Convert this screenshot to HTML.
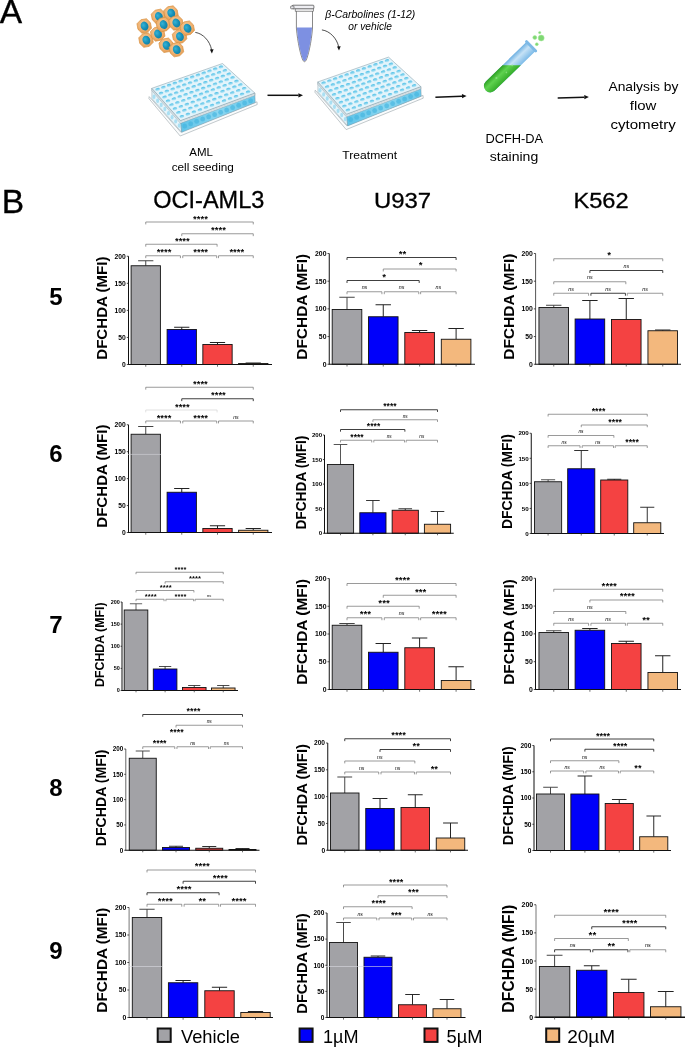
<!DOCTYPE html>
<html lang="en"><head><meta charset="utf-8"><title>Figure</title>
<style>html,body{margin:0;padding:0;background:#fff}svg{display:block}text{font-family:"Liberation Sans", Arial, sans-serif;fill:#000}</style></head>
<body>
<svg width="685" height="1047" viewBox="0 0 685 1047">
<defs>
<radialGradient id="cellg" cx="0.45" cy="0.4" r="0.6"><stop offset="0" stop-color="#f6cf9f"/><stop offset="0.6" stop-color="#efb273"/><stop offset="1" stop-color="#e49c54"/></radialGradient>
<radialGradient id="nucg" cx="0.4" cy="0.35" r="0.7"><stop offset="0" stop-color="#36b3d6"/><stop offset="0.6" stop-color="#168fb6"/><stop offset="1" stop-color="#0f7ea4"/></radialGradient>
<linearGradient id="wellg" x1="0" y1="0" x2="0" y2="1"><stop offset="0" stop-color="#4fbfe6"/><stop offset="0.55" stop-color="#8bd6f0"/><stop offset="1" stop-color="#c9ecf8"/></linearGradient>
<linearGradient id="sideg" x1="0" y1="0" x2="1" y2="0"><stop offset="0" stop-color="#5fc4e9"/><stop offset="0.5" stop-color="#8ad6f0"/><stop offset="1" stop-color="#6ccaec"/></linearGradient>
<linearGradient id="glassg" x1="0" y1="0" x2="1" y2="0"><stop offset="0" stop-color="#6fb1e2"/><stop offset="0.4" stop-color="#c6e2f6"/><stop offset="1" stop-color="#7ebbe8"/></linearGradient>
<linearGradient id="liqg" x1="0" y1="0" x2="1" y2="0"><stop offset="0" stop-color="#2ea022"/><stop offset="0.4" stop-color="#5fd24f"/><stop offset="1" stop-color="#36ad2a"/></linearGradient>
</defs>
<rect width="685" height="1047" fill="#fff"/>
<g><polygon points="165.76,18.65 161.8,22.65 156.25,23.66 152.25,19.7 151.24,14.15 155.2,10.15 160.75,9.14 164.75,13.1" fill="url(#cellg)" stroke="#d8913f" stroke-width="0.7" stroke-linejoin="round"/><ellipse cx="158.8" cy="16.6" rx="3.8" ry="4.56" transform="rotate(-25 158.5 16.4)" fill="url(#nucg)"/><polygon points="178.16,15.35 174.2,19.35 168.65,20.36 164.65,16.4 163.64,10.85 167.6,6.85 173.15,5.84 177.15,9.8" fill="url(#cellg)" stroke="#d8913f" stroke-width="0.7" stroke-linejoin="round"/><ellipse cx="171.2" cy="13.3" rx="3.8" ry="4.56" transform="rotate(-25 170.9 13.1)" fill="url(#nucg)"/><polygon points="151.46,28.25 147.5,32.25 141.95,33.26 137.95,29.3 136.94,23.75 140.9,19.75 146.45,18.74 150.45,22.7" fill="url(#cellg)" stroke="#d8913f" stroke-width="0.7" stroke-linejoin="round"/><ellipse cx="144.5" cy="26.2" rx="3.8" ry="4.56" transform="rotate(-25 144.2 26)" fill="url(#nucg)"/><polygon points="153.26,42.35 149.3,46.35 143.75,47.36 139.75,43.4 138.74,37.85 142.7,33.85 148.25,32.84 152.25,36.8" fill="url(#cellg)" stroke="#d8913f" stroke-width="0.7" stroke-linejoin="round"/><ellipse cx="146.3" cy="40.3" rx="3.8" ry="4.56" transform="rotate(-25 146 40.1)" fill="url(#nucg)"/><polygon points="164.96,36.15 161,40.15 155.45,41.16 151.45,37.2 150.44,31.65 154.4,27.65 159.95,26.64 163.95,30.6" fill="url(#cellg)" stroke="#d8913f" stroke-width="0.7" stroke-linejoin="round"/><ellipse cx="158" cy="34.1" rx="3.8" ry="4.56" transform="rotate(-25 157.7 33.9)" fill="url(#nucg)"/><polygon points="170.56,26.75 166.6,30.75 161.05,31.76 157.05,27.8 156.04,22.25 160,18.25 165.55,17.24 169.55,21.2" fill="url(#cellg)" stroke="#d8913f" stroke-width="0.7" stroke-linejoin="round"/><ellipse cx="163.6" cy="24.7" rx="3.8" ry="4.56" transform="rotate(-25 163.3 24.5)" fill="url(#nucg)"/><polygon points="183.26,25.15 179.3,29.15 173.75,30.16 169.75,26.2 168.74,20.65 172.7,16.65 178.25,15.64 182.25,19.6" fill="url(#cellg)" stroke="#d8913f" stroke-width="0.7" stroke-linejoin="round"/><ellipse cx="176.3" cy="23.1" rx="3.8" ry="4.56" transform="rotate(-25 176 22.9)" fill="url(#nucg)"/><polygon points="186.86,38.75 182.9,42.75 177.35,43.76 173.35,39.8 172.34,34.25 176.3,30.25 181.85,29.24 185.85,33.2" fill="url(#cellg)" stroke="#d8913f" stroke-width="0.7" stroke-linejoin="round"/><ellipse cx="179.9" cy="36.7" rx="3.8" ry="4.56" transform="rotate(-25 179.6 36.5)" fill="url(#nucg)"/><polygon points="194.46,30.45 190.5,34.45 184.95,35.46 180.95,31.5 179.94,25.95 183.9,21.95 189.45,20.94 193.45,24.9" fill="url(#cellg)" stroke="#d8913f" stroke-width="0.7" stroke-linejoin="round"/><ellipse cx="187.5" cy="28.4" rx="3.8" ry="4.56" transform="rotate(-25 187.2 28.2)" fill="url(#nucg)"/><polygon points="173.46,47.55 169.5,51.55 163.95,52.56 159.95,48.6 158.94,43.05 162.9,39.05 168.45,38.04 172.45,42" fill="url(#cellg)" stroke="#d8913f" stroke-width="0.7" stroke-linejoin="round"/><ellipse cx="166.5" cy="45.5" rx="3.8" ry="4.56" transform="rotate(-25 166.2 45.3)" fill="url(#nucg)"/><polygon points="183.66,51.85 179.7,55.85 174.15,56.86 170.15,52.9 169.14,47.35 173.1,43.35 178.65,42.34 182.65,46.3" fill="url(#cellg)" stroke="#d8913f" stroke-width="0.7" stroke-linejoin="round"/><ellipse cx="176.7" cy="49.8" rx="3.8" ry="4.56" transform="rotate(-25 176.4 49.6)" fill="url(#nucg)"/></g>
<path d="M195.3 32.4 C203 33.5 210 41 211.6 50" stroke="#222" stroke-width="0.8" fill="none"/>
<polygon points="211.9,53.6 209.9,49.6 213.6,49.3" fill="#111"/>
<g transform="translate(0 0)">
<polygon points="148.9,98.6 180.2,136 257.2,104.6 257,101.8 180.6,132 149.2,96.6" fill="#fafcfd" stroke="#9aa4aa" stroke-width="0.6"/>
<polygon points="151.9,88.3 180.5,120.6 181.7,132.3 151.9,98.5" fill="#e6f5fb" stroke="#8aa2ad" stroke-width="0.5"/>
<polygon points="180.5,120.6 254.8,93 255.2,102.6 181.7,132.3" fill="url(#sideg)" stroke="#7d99a6" stroke-width="0.5"/>
<ellipse cx="184.7" cy="125.96" rx="2.4" ry="2.5" fill="#3fb2dd" opacity="0.6"/>
<ellipse cx="190.69" cy="123.66" rx="2.4" ry="2.5" fill="#3fb2dd" opacity="0.6"/>
<ellipse cx="196.68" cy="121.37" rx="2.4" ry="2.5" fill="#3fb2dd" opacity="0.6"/>
<ellipse cx="202.67" cy="119.07" rx="2.4" ry="2.5" fill="#3fb2dd" opacity="0.6"/>
<ellipse cx="208.66" cy="116.78" rx="2.4" ry="2.5" fill="#3fb2dd" opacity="0.6"/>
<ellipse cx="214.65" cy="114.49" rx="2.4" ry="2.5" fill="#3fb2dd" opacity="0.6"/>
<ellipse cx="220.65" cy="112.19" rx="2.4" ry="2.5" fill="#3fb2dd" opacity="0.6"/>
<ellipse cx="226.64" cy="109.9" rx="2.4" ry="2.5" fill="#3fb2dd" opacity="0.6"/>
<ellipse cx="232.63" cy="107.61" rx="2.4" ry="2.5" fill="#3fb2dd" opacity="0.6"/>
<ellipse cx="238.62" cy="105.31" rx="2.4" ry="2.5" fill="#3fb2dd" opacity="0.6"/>
<ellipse cx="244.61" cy="103.02" rx="2.4" ry="2.5" fill="#3fb2dd" opacity="0.6"/>
<ellipse cx="250.61" cy="100.73" rx="2.4" ry="2.5" fill="#3fb2dd" opacity="0.6"/>
<ellipse cx="154.01" cy="96.68" rx="1.5" ry="2.2" fill="#9ddaf1" opacity="0.85"/>
<ellipse cx="157.62" cy="100.8" rx="1.5" ry="2.2" fill="#9ddaf1" opacity="0.85"/>
<ellipse cx="161.23" cy="104.91" rx="1.5" ry="2.2" fill="#9ddaf1" opacity="0.85"/>
<ellipse cx="164.84" cy="109.02" rx="1.5" ry="2.2" fill="#9ddaf1" opacity="0.85"/>
<ellipse cx="168.46" cy="113.14" rx="1.5" ry="2.2" fill="#9ddaf1" opacity="0.85"/>
<ellipse cx="172.07" cy="117.25" rx="1.5" ry="2.2" fill="#9ddaf1" opacity="0.85"/>
<ellipse cx="175.68" cy="121.37" rx="1.5" ry="2.2" fill="#9ddaf1" opacity="0.85"/>
<ellipse cx="179.29" cy="125.48" rx="1.5" ry="2.2" fill="#9ddaf1" opacity="0.85"/>
<polygon points="151.9,88.3 180.5,120.6 254.8,93 254.8,95.4 180.5,123.3 151.9,90.7" fill="#eef4f7" stroke="#7f949e" stroke-width="0.45"/>
<path d="M151.9 89.5L180.5 121.9L254.8 94.2" stroke="#9fb0b8" stroke-width="0.4" fill="none"/>
<polygon points="151.9,88.3 222.5,63.5 254.8,93 180.5,120.6" fill="#e3f4fb" stroke="#8fa6b0" stroke-width="0.6"/>
<ellipse cx="157.61" cy="89.45" rx="2.35" ry="1.55" transform="rotate(-12 157.61 89.45)" fill="url(#wellg)"/>
<ellipse cx="161.08" cy="93.33" rx="2.35" ry="1.55" transform="rotate(-12 161.08 93.33)" fill="url(#wellg)"/>
<ellipse cx="164.55" cy="97.2" rx="2.35" ry="1.55" transform="rotate(-12 164.55 97.2)" fill="url(#wellg)"/>
<ellipse cx="168.01" cy="101.08" rx="2.35" ry="1.55" transform="rotate(-12 168.01 101.08)" fill="url(#wellg)"/>
<ellipse cx="171.48" cy="104.95" rx="2.35" ry="1.55" transform="rotate(-12 171.48 104.95)" fill="url(#wellg)"/>
<ellipse cx="174.95" cy="108.82" rx="2.35" ry="1.55" transform="rotate(-12 174.95 108.82)" fill="url(#wellg)"/>
<ellipse cx="178.42" cy="112.7" rx="2.35" ry="1.55" transform="rotate(-12 178.42 112.7)" fill="url(#wellg)"/>
<ellipse cx="181.89" cy="116.57" rx="2.35" ry="1.55" transform="rotate(-12 181.89 116.57)" fill="url(#wellg)"/>
<ellipse cx="163.37" cy="87.42" rx="2.35" ry="1.55" transform="rotate(-12 163.37 87.42)" fill="url(#wellg)"/>
<ellipse cx="166.88" cy="91.27" rx="2.35" ry="1.55" transform="rotate(-12 166.88 91.27)" fill="url(#wellg)"/>
<ellipse cx="170.38" cy="95.11" rx="2.35" ry="1.55" transform="rotate(-12 170.38 95.11)" fill="url(#wellg)"/>
<ellipse cx="173.88" cy="98.96" rx="2.35" ry="1.55" transform="rotate(-12 173.88 98.96)" fill="url(#wellg)"/>
<ellipse cx="177.39" cy="102.81" rx="2.35" ry="1.55" transform="rotate(-12 177.39 102.81)" fill="url(#wellg)"/>
<ellipse cx="180.89" cy="106.65" rx="2.35" ry="1.55" transform="rotate(-12 180.89 106.65)" fill="url(#wellg)"/>
<ellipse cx="184.4" cy="110.5" rx="2.35" ry="1.55" transform="rotate(-12 184.4 110.5)" fill="url(#wellg)"/>
<ellipse cx="187.9" cy="114.35" rx="2.35" ry="1.55" transform="rotate(-12 187.9 114.35)" fill="url(#wellg)"/>
<ellipse cx="169.13" cy="85.39" rx="2.35" ry="1.55" transform="rotate(-12 169.13 85.39)" fill="url(#wellg)"/>
<ellipse cx="172.67" cy="89.21" rx="2.35" ry="1.55" transform="rotate(-12 172.67 89.21)" fill="url(#wellg)"/>
<ellipse cx="176.22" cy="93.03" rx="2.35" ry="1.55" transform="rotate(-12 176.22 93.03)" fill="url(#wellg)"/>
<ellipse cx="179.76" cy="96.84" rx="2.35" ry="1.55" transform="rotate(-12 179.76 96.84)" fill="url(#wellg)"/>
<ellipse cx="183.3" cy="100.66" rx="2.35" ry="1.55" transform="rotate(-12 183.3 100.66)" fill="url(#wellg)"/>
<ellipse cx="186.84" cy="104.48" rx="2.35" ry="1.55" transform="rotate(-12 186.84 104.48)" fill="url(#wellg)"/>
<ellipse cx="190.38" cy="108.3" rx="2.35" ry="1.55" transform="rotate(-12 190.38 108.3)" fill="url(#wellg)"/>
<ellipse cx="193.92" cy="112.12" rx="2.35" ry="1.55" transform="rotate(-12 193.92 112.12)" fill="url(#wellg)"/>
<ellipse cx="174.9" cy="83.35" rx="2.35" ry="1.55" transform="rotate(-12 174.9 83.35)" fill="url(#wellg)"/>
<ellipse cx="178.47" cy="87.14" rx="2.35" ry="1.55" transform="rotate(-12 178.47 87.14)" fill="url(#wellg)"/>
<ellipse cx="182.05" cy="90.94" rx="2.35" ry="1.55" transform="rotate(-12 182.05 90.94)" fill="url(#wellg)"/>
<ellipse cx="185.63" cy="94.73" rx="2.35" ry="1.55" transform="rotate(-12 185.63 94.73)" fill="url(#wellg)"/>
<ellipse cx="189.2" cy="98.52" rx="2.35" ry="1.55" transform="rotate(-12 189.2 98.52)" fill="url(#wellg)"/>
<ellipse cx="192.78" cy="102.31" rx="2.35" ry="1.55" transform="rotate(-12 192.78 102.31)" fill="url(#wellg)"/>
<ellipse cx="196.36" cy="106.11" rx="2.35" ry="1.55" transform="rotate(-12 196.36 106.11)" fill="url(#wellg)"/>
<ellipse cx="199.93" cy="109.9" rx="2.35" ry="1.55" transform="rotate(-12 199.93 109.9)" fill="url(#wellg)"/>
<ellipse cx="180.66" cy="81.32" rx="2.35" ry="1.55" transform="rotate(-12 180.66 81.32)" fill="url(#wellg)"/>
<ellipse cx="184.27" cy="85.08" rx="2.35" ry="1.55" transform="rotate(-12 184.27 85.08)" fill="url(#wellg)"/>
<ellipse cx="187.88" cy="88.85" rx="2.35" ry="1.55" transform="rotate(-12 187.88 88.85)" fill="url(#wellg)"/>
<ellipse cx="191.5" cy="92.61" rx="2.35" ry="1.55" transform="rotate(-12 191.5 92.61)" fill="url(#wellg)"/>
<ellipse cx="195.11" cy="96.38" rx="2.35" ry="1.55" transform="rotate(-12 195.11 96.38)" fill="url(#wellg)"/>
<ellipse cx="198.72" cy="100.14" rx="2.35" ry="1.55" transform="rotate(-12 198.72 100.14)" fill="url(#wellg)"/>
<ellipse cx="202.34" cy="103.91" rx="2.35" ry="1.55" transform="rotate(-12 202.34 103.91)" fill="url(#wellg)"/>
<ellipse cx="205.95" cy="107.67" rx="2.35" ry="1.55" transform="rotate(-12 205.95 107.67)" fill="url(#wellg)"/>
<ellipse cx="186.42" cy="79.29" rx="2.35" ry="1.55" transform="rotate(-12 186.42 79.29)" fill="url(#wellg)"/>
<ellipse cx="190.07" cy="83.02" rx="2.35" ry="1.55" transform="rotate(-12 190.07 83.02)" fill="url(#wellg)"/>
<ellipse cx="193.72" cy="86.76" rx="2.35" ry="1.55" transform="rotate(-12 193.72 86.76)" fill="url(#wellg)"/>
<ellipse cx="197.37" cy="90.5" rx="2.35" ry="1.55" transform="rotate(-12 197.37 90.5)" fill="url(#wellg)"/>
<ellipse cx="201.02" cy="94.24" rx="2.35" ry="1.55" transform="rotate(-12 201.02 94.24)" fill="url(#wellg)"/>
<ellipse cx="204.67" cy="97.97" rx="2.35" ry="1.55" transform="rotate(-12 204.67 97.97)" fill="url(#wellg)"/>
<ellipse cx="208.32" cy="101.71" rx="2.35" ry="1.55" transform="rotate(-12 208.32 101.71)" fill="url(#wellg)"/>
<ellipse cx="211.97" cy="105.45" rx="2.35" ry="1.55" transform="rotate(-12 211.97 105.45)" fill="url(#wellg)"/>
<ellipse cx="192.18" cy="77.25" rx="2.35" ry="1.55" transform="rotate(-12 192.18 77.25)" fill="url(#wellg)"/>
<ellipse cx="195.87" cy="80.96" rx="2.35" ry="1.55" transform="rotate(-12 195.87 80.96)" fill="url(#wellg)"/>
<ellipse cx="199.55" cy="84.67" rx="2.35" ry="1.55" transform="rotate(-12 199.55 84.67)" fill="url(#wellg)"/>
<ellipse cx="203.24" cy="88.38" rx="2.35" ry="1.55" transform="rotate(-12 203.24 88.38)" fill="url(#wellg)"/>
<ellipse cx="206.93" cy="92.09" rx="2.35" ry="1.55" transform="rotate(-12 206.93 92.09)" fill="url(#wellg)"/>
<ellipse cx="210.61" cy="95.8" rx="2.35" ry="1.55" transform="rotate(-12 210.61 95.8)" fill="url(#wellg)"/>
<ellipse cx="214.3" cy="99.51" rx="2.35" ry="1.55" transform="rotate(-12 214.3 99.51)" fill="url(#wellg)"/>
<ellipse cx="217.98" cy="103.22" rx="2.35" ry="1.55" transform="rotate(-12 217.98 103.22)" fill="url(#wellg)"/>
<ellipse cx="197.95" cy="75.22" rx="2.35" ry="1.55" transform="rotate(-12 197.95 75.22)" fill="url(#wellg)"/>
<ellipse cx="201.67" cy="78.9" rx="2.35" ry="1.55" transform="rotate(-12 201.67 78.9)" fill="url(#wellg)"/>
<ellipse cx="205.39" cy="82.58" rx="2.35" ry="1.55" transform="rotate(-12 205.39 82.58)" fill="url(#wellg)"/>
<ellipse cx="209.11" cy="86.27" rx="2.35" ry="1.55" transform="rotate(-12 209.11 86.27)" fill="url(#wellg)"/>
<ellipse cx="212.83" cy="89.95" rx="2.35" ry="1.55" transform="rotate(-12 212.83 89.95)" fill="url(#wellg)"/>
<ellipse cx="216.55" cy="93.63" rx="2.35" ry="1.55" transform="rotate(-12 216.55 93.63)" fill="url(#wellg)"/>
<ellipse cx="220.28" cy="97.31" rx="2.35" ry="1.55" transform="rotate(-12 220.28 97.31)" fill="url(#wellg)"/>
<ellipse cx="224" cy="101" rx="2.35" ry="1.55" transform="rotate(-12 224 101)" fill="url(#wellg)"/>
<ellipse cx="203.71" cy="73.19" rx="2.35" ry="1.55" transform="rotate(-12 203.71 73.19)" fill="url(#wellg)"/>
<ellipse cx="207.47" cy="76.84" rx="2.35" ry="1.55" transform="rotate(-12 207.47 76.84)" fill="url(#wellg)"/>
<ellipse cx="211.22" cy="80.5" rx="2.35" ry="1.55" transform="rotate(-12 211.22 80.5)" fill="url(#wellg)"/>
<ellipse cx="214.98" cy="84.15" rx="2.35" ry="1.55" transform="rotate(-12 214.98 84.15)" fill="url(#wellg)"/>
<ellipse cx="218.74" cy="87.81" rx="2.35" ry="1.55" transform="rotate(-12 218.74 87.81)" fill="url(#wellg)"/>
<ellipse cx="222.5" cy="91.46" rx="2.35" ry="1.55" transform="rotate(-12 222.5 91.46)" fill="url(#wellg)"/>
<ellipse cx="226.26" cy="95.12" rx="2.35" ry="1.55" transform="rotate(-12 226.26 95.12)" fill="url(#wellg)"/>
<ellipse cx="230.01" cy="98.77" rx="2.35" ry="1.55" transform="rotate(-12 230.01 98.77)" fill="url(#wellg)"/>
<ellipse cx="209.47" cy="71.15" rx="2.35" ry="1.55" transform="rotate(-12 209.47 71.15)" fill="url(#wellg)"/>
<ellipse cx="213.26" cy="74.78" rx="2.35" ry="1.55" transform="rotate(-12 213.26 74.78)" fill="url(#wellg)"/>
<ellipse cx="217.06" cy="78.41" rx="2.35" ry="1.55" transform="rotate(-12 217.06 78.41)" fill="url(#wellg)"/>
<ellipse cx="220.85" cy="82.04" rx="2.35" ry="1.55" transform="rotate(-12 220.85 82.04)" fill="url(#wellg)"/>
<ellipse cx="224.65" cy="85.66" rx="2.35" ry="1.55" transform="rotate(-12 224.65 85.66)" fill="url(#wellg)"/>
<ellipse cx="228.44" cy="89.29" rx="2.35" ry="1.55" transform="rotate(-12 228.44 89.29)" fill="url(#wellg)"/>
<ellipse cx="232.24" cy="92.92" rx="2.35" ry="1.55" transform="rotate(-12 232.24 92.92)" fill="url(#wellg)"/>
<ellipse cx="236.03" cy="96.55" rx="2.35" ry="1.55" transform="rotate(-12 236.03 96.55)" fill="url(#wellg)"/>
<ellipse cx="215.23" cy="69.12" rx="2.35" ry="1.55" transform="rotate(-12 215.23 69.12)" fill="url(#wellg)"/>
<ellipse cx="219.06" cy="72.72" rx="2.35" ry="1.55" transform="rotate(-12 219.06 72.72)" fill="url(#wellg)"/>
<ellipse cx="222.89" cy="76.32" rx="2.35" ry="1.55" transform="rotate(-12 222.89 76.32)" fill="url(#wellg)"/>
<ellipse cx="226.72" cy="79.92" rx="2.35" ry="1.55" transform="rotate(-12 226.72 79.92)" fill="url(#wellg)"/>
<ellipse cx="230.55" cy="83.52" rx="2.35" ry="1.55" transform="rotate(-12 230.55 83.52)" fill="url(#wellg)"/>
<ellipse cx="234.39" cy="87.12" rx="2.35" ry="1.55" transform="rotate(-12 234.39 87.12)" fill="url(#wellg)"/>
<ellipse cx="238.22" cy="90.72" rx="2.35" ry="1.55" transform="rotate(-12 238.22 90.72)" fill="url(#wellg)"/>
<ellipse cx="242.05" cy="94.32" rx="2.35" ry="1.55" transform="rotate(-12 242.05 94.32)" fill="url(#wellg)"/>
<ellipse cx="220.99" cy="67.09" rx="2.35" ry="1.55" transform="rotate(-12 220.99 67.09)" fill="url(#wellg)"/>
<ellipse cx="224.86" cy="70.66" rx="2.35" ry="1.55" transform="rotate(-12 224.86 70.66)" fill="url(#wellg)"/>
<ellipse cx="228.73" cy="74.23" rx="2.35" ry="1.55" transform="rotate(-12 228.73 74.23)" fill="url(#wellg)"/>
<ellipse cx="232.6" cy="77.8" rx="2.35" ry="1.55" transform="rotate(-12 232.6 77.8)" fill="url(#wellg)"/>
<ellipse cx="236.46" cy="81.38" rx="2.35" ry="1.55" transform="rotate(-12 236.46 81.38)" fill="url(#wellg)"/>
<ellipse cx="240.33" cy="84.95" rx="2.35" ry="1.55" transform="rotate(-12 240.33 84.95)" fill="url(#wellg)"/>
<ellipse cx="244.2" cy="88.52" rx="2.35" ry="1.55" transform="rotate(-12 244.2 88.52)" fill="url(#wellg)"/>
<ellipse cx="248.06" cy="92.1" rx="2.35" ry="1.55" transform="rotate(-12 248.06 92.1)" fill="url(#wellg)"/>
</g>
<path d="M267.5 95.3L298.4 95.3" stroke="#111" stroke-width="1.5"/><polygon points="303,95.3 298.4,97.4 298.4,93.2" fill="#111"/>
<g>
<path d="M296.4 9.5 L296.4 28 C297.5 42 301 57 303.2 60.8 Q304.5 62.6 305.8 60.8 C308 57 311.5 42 312.5 28 L312.5 9.5 Z" fill="#fdfdff" stroke="#555" stroke-width="0.7"/>
<path d="M296.9 27.6 L296.9 28 C297.9 42 301.2 56.5 303.4 60.3 Q304.5 61.9 305.6 60.3 C307.8 56.5 311.1 42 312 28 L312 27.6 Z" fill="#7d90e2"/>
<rect x="295.2" y="8.6" width="18.4" height="2.6" fill="#f4f4f6" stroke="#555" stroke-width="0.6"/>
<rect x="292.3" y="5.2" width="21.6" height="3.6" rx="0.8" fill="#eeeef2" stroke="#444" stroke-width="0.7"/>
<rect x="290.6" y="6.0" width="3.4" height="2.8" rx="0.8" fill="#e6e6ea" stroke="#444" stroke-width="0.6"/>
</g>
<path d="M321.9 29.9 C330 31 337 38.5 338.7 47" stroke="#222" stroke-width="0.8" fill="none"/>
<polygon points="339,50.6 337,46.6 340.7,46.3" fill="#111"/>
<g transform="translate(166 -6.4)">
<polygon points="148.9,98.6 180.2,136 257.2,104.6 257,101.8 180.6,132 149.2,96.6" fill="#fafcfd" stroke="#9aa4aa" stroke-width="0.6"/>
<polygon points="151.9,88.3 180.5,120.6 181.7,132.3 151.9,98.5" fill="#e6f5fb" stroke="#8aa2ad" stroke-width="0.5"/>
<polygon points="180.5,120.6 254.8,93 255.2,102.6 181.7,132.3" fill="url(#sideg)" stroke="#7d99a6" stroke-width="0.5"/>
<ellipse cx="184.7" cy="125.96" rx="2.4" ry="2.5" fill="#3fb2dd" opacity="0.6"/>
<ellipse cx="190.69" cy="123.66" rx="2.4" ry="2.5" fill="#3fb2dd" opacity="0.6"/>
<ellipse cx="196.68" cy="121.37" rx="2.4" ry="2.5" fill="#3fb2dd" opacity="0.6"/>
<ellipse cx="202.67" cy="119.07" rx="2.4" ry="2.5" fill="#3fb2dd" opacity="0.6"/>
<ellipse cx="208.66" cy="116.78" rx="2.4" ry="2.5" fill="#3fb2dd" opacity="0.6"/>
<ellipse cx="214.65" cy="114.49" rx="2.4" ry="2.5" fill="#3fb2dd" opacity="0.6"/>
<ellipse cx="220.65" cy="112.19" rx="2.4" ry="2.5" fill="#3fb2dd" opacity="0.6"/>
<ellipse cx="226.64" cy="109.9" rx="2.4" ry="2.5" fill="#3fb2dd" opacity="0.6"/>
<ellipse cx="232.63" cy="107.61" rx="2.4" ry="2.5" fill="#3fb2dd" opacity="0.6"/>
<ellipse cx="238.62" cy="105.31" rx="2.4" ry="2.5" fill="#3fb2dd" opacity="0.6"/>
<ellipse cx="244.61" cy="103.02" rx="2.4" ry="2.5" fill="#3fb2dd" opacity="0.6"/>
<ellipse cx="250.61" cy="100.73" rx="2.4" ry="2.5" fill="#3fb2dd" opacity="0.6"/>
<ellipse cx="154.01" cy="96.68" rx="1.5" ry="2.2" fill="#9ddaf1" opacity="0.85"/>
<ellipse cx="157.62" cy="100.8" rx="1.5" ry="2.2" fill="#9ddaf1" opacity="0.85"/>
<ellipse cx="161.23" cy="104.91" rx="1.5" ry="2.2" fill="#9ddaf1" opacity="0.85"/>
<ellipse cx="164.84" cy="109.02" rx="1.5" ry="2.2" fill="#9ddaf1" opacity="0.85"/>
<ellipse cx="168.46" cy="113.14" rx="1.5" ry="2.2" fill="#9ddaf1" opacity="0.85"/>
<ellipse cx="172.07" cy="117.25" rx="1.5" ry="2.2" fill="#9ddaf1" opacity="0.85"/>
<ellipse cx="175.68" cy="121.37" rx="1.5" ry="2.2" fill="#9ddaf1" opacity="0.85"/>
<ellipse cx="179.29" cy="125.48" rx="1.5" ry="2.2" fill="#9ddaf1" opacity="0.85"/>
<polygon points="151.9,88.3 180.5,120.6 254.8,93 254.8,95.4 180.5,123.3 151.9,90.7" fill="#eef4f7" stroke="#7f949e" stroke-width="0.45"/>
<path d="M151.9 89.5L180.5 121.9L254.8 94.2" stroke="#9fb0b8" stroke-width="0.4" fill="none"/>
<polygon points="151.9,88.3 222.5,63.5 254.8,93 180.5,120.6" fill="#e3f4fb" stroke="#8fa6b0" stroke-width="0.6"/>
<ellipse cx="157.61" cy="89.45" rx="2.35" ry="1.55" transform="rotate(-12 157.61 89.45)" fill="url(#wellg)"/>
<ellipse cx="161.08" cy="93.33" rx="2.35" ry="1.55" transform="rotate(-12 161.08 93.33)" fill="url(#wellg)"/>
<ellipse cx="164.55" cy="97.2" rx="2.35" ry="1.55" transform="rotate(-12 164.55 97.2)" fill="url(#wellg)"/>
<ellipse cx="168.01" cy="101.08" rx="2.35" ry="1.55" transform="rotate(-12 168.01 101.08)" fill="url(#wellg)"/>
<ellipse cx="171.48" cy="104.95" rx="2.35" ry="1.55" transform="rotate(-12 171.48 104.95)" fill="url(#wellg)"/>
<ellipse cx="174.95" cy="108.82" rx="2.35" ry="1.55" transform="rotate(-12 174.95 108.82)" fill="url(#wellg)"/>
<ellipse cx="178.42" cy="112.7" rx="2.35" ry="1.55" transform="rotate(-12 178.42 112.7)" fill="url(#wellg)"/>
<ellipse cx="181.89" cy="116.57" rx="2.35" ry="1.55" transform="rotate(-12 181.89 116.57)" fill="url(#wellg)"/>
<ellipse cx="163.37" cy="87.42" rx="2.35" ry="1.55" transform="rotate(-12 163.37 87.42)" fill="url(#wellg)"/>
<ellipse cx="166.88" cy="91.27" rx="2.35" ry="1.55" transform="rotate(-12 166.88 91.27)" fill="url(#wellg)"/>
<ellipse cx="170.38" cy="95.11" rx="2.35" ry="1.55" transform="rotate(-12 170.38 95.11)" fill="url(#wellg)"/>
<ellipse cx="173.88" cy="98.96" rx="2.35" ry="1.55" transform="rotate(-12 173.88 98.96)" fill="url(#wellg)"/>
<ellipse cx="177.39" cy="102.81" rx="2.35" ry="1.55" transform="rotate(-12 177.39 102.81)" fill="url(#wellg)"/>
<ellipse cx="180.89" cy="106.65" rx="2.35" ry="1.55" transform="rotate(-12 180.89 106.65)" fill="url(#wellg)"/>
<ellipse cx="184.4" cy="110.5" rx="2.35" ry="1.55" transform="rotate(-12 184.4 110.5)" fill="url(#wellg)"/>
<ellipse cx="187.9" cy="114.35" rx="2.35" ry="1.55" transform="rotate(-12 187.9 114.35)" fill="url(#wellg)"/>
<ellipse cx="169.13" cy="85.39" rx="2.35" ry="1.55" transform="rotate(-12 169.13 85.39)" fill="url(#wellg)"/>
<ellipse cx="172.67" cy="89.21" rx="2.35" ry="1.55" transform="rotate(-12 172.67 89.21)" fill="url(#wellg)"/>
<ellipse cx="176.22" cy="93.03" rx="2.35" ry="1.55" transform="rotate(-12 176.22 93.03)" fill="url(#wellg)"/>
<ellipse cx="179.76" cy="96.84" rx="2.35" ry="1.55" transform="rotate(-12 179.76 96.84)" fill="url(#wellg)"/>
<ellipse cx="183.3" cy="100.66" rx="2.35" ry="1.55" transform="rotate(-12 183.3 100.66)" fill="url(#wellg)"/>
<ellipse cx="186.84" cy="104.48" rx="2.35" ry="1.55" transform="rotate(-12 186.84 104.48)" fill="url(#wellg)"/>
<ellipse cx="190.38" cy="108.3" rx="2.35" ry="1.55" transform="rotate(-12 190.38 108.3)" fill="url(#wellg)"/>
<ellipse cx="193.92" cy="112.12" rx="2.35" ry="1.55" transform="rotate(-12 193.92 112.12)" fill="url(#wellg)"/>
<ellipse cx="174.9" cy="83.35" rx="2.35" ry="1.55" transform="rotate(-12 174.9 83.35)" fill="url(#wellg)"/>
<ellipse cx="178.47" cy="87.14" rx="2.35" ry="1.55" transform="rotate(-12 178.47 87.14)" fill="url(#wellg)"/>
<ellipse cx="182.05" cy="90.94" rx="2.35" ry="1.55" transform="rotate(-12 182.05 90.94)" fill="url(#wellg)"/>
<ellipse cx="185.63" cy="94.73" rx="2.35" ry="1.55" transform="rotate(-12 185.63 94.73)" fill="url(#wellg)"/>
<ellipse cx="189.2" cy="98.52" rx="2.35" ry="1.55" transform="rotate(-12 189.2 98.52)" fill="url(#wellg)"/>
<ellipse cx="192.78" cy="102.31" rx="2.35" ry="1.55" transform="rotate(-12 192.78 102.31)" fill="url(#wellg)"/>
<ellipse cx="196.36" cy="106.11" rx="2.35" ry="1.55" transform="rotate(-12 196.36 106.11)" fill="url(#wellg)"/>
<ellipse cx="199.93" cy="109.9" rx="2.35" ry="1.55" transform="rotate(-12 199.93 109.9)" fill="url(#wellg)"/>
<ellipse cx="180.66" cy="81.32" rx="2.35" ry="1.55" transform="rotate(-12 180.66 81.32)" fill="url(#wellg)"/>
<ellipse cx="184.27" cy="85.08" rx="2.35" ry="1.55" transform="rotate(-12 184.27 85.08)" fill="url(#wellg)"/>
<ellipse cx="187.88" cy="88.85" rx="2.35" ry="1.55" transform="rotate(-12 187.88 88.85)" fill="url(#wellg)"/>
<ellipse cx="191.5" cy="92.61" rx="2.35" ry="1.55" transform="rotate(-12 191.5 92.61)" fill="url(#wellg)"/>
<ellipse cx="195.11" cy="96.38" rx="2.35" ry="1.55" transform="rotate(-12 195.11 96.38)" fill="url(#wellg)"/>
<ellipse cx="198.72" cy="100.14" rx="2.35" ry="1.55" transform="rotate(-12 198.72 100.14)" fill="url(#wellg)"/>
<ellipse cx="202.34" cy="103.91" rx="2.35" ry="1.55" transform="rotate(-12 202.34 103.91)" fill="url(#wellg)"/>
<ellipse cx="205.95" cy="107.67" rx="2.35" ry="1.55" transform="rotate(-12 205.95 107.67)" fill="url(#wellg)"/>
<ellipse cx="186.42" cy="79.29" rx="2.35" ry="1.55" transform="rotate(-12 186.42 79.29)" fill="url(#wellg)"/>
<ellipse cx="190.07" cy="83.02" rx="2.35" ry="1.55" transform="rotate(-12 190.07 83.02)" fill="url(#wellg)"/>
<ellipse cx="193.72" cy="86.76" rx="2.35" ry="1.55" transform="rotate(-12 193.72 86.76)" fill="url(#wellg)"/>
<ellipse cx="197.37" cy="90.5" rx="2.35" ry="1.55" transform="rotate(-12 197.37 90.5)" fill="url(#wellg)"/>
<ellipse cx="201.02" cy="94.24" rx="2.35" ry="1.55" transform="rotate(-12 201.02 94.24)" fill="url(#wellg)"/>
<ellipse cx="204.67" cy="97.97" rx="2.35" ry="1.55" transform="rotate(-12 204.67 97.97)" fill="url(#wellg)"/>
<ellipse cx="208.32" cy="101.71" rx="2.35" ry="1.55" transform="rotate(-12 208.32 101.71)" fill="url(#wellg)"/>
<ellipse cx="211.97" cy="105.45" rx="2.35" ry="1.55" transform="rotate(-12 211.97 105.45)" fill="url(#wellg)"/>
<ellipse cx="192.18" cy="77.25" rx="2.35" ry="1.55" transform="rotate(-12 192.18 77.25)" fill="url(#wellg)"/>
<ellipse cx="195.87" cy="80.96" rx="2.35" ry="1.55" transform="rotate(-12 195.87 80.96)" fill="url(#wellg)"/>
<ellipse cx="199.55" cy="84.67" rx="2.35" ry="1.55" transform="rotate(-12 199.55 84.67)" fill="url(#wellg)"/>
<ellipse cx="203.24" cy="88.38" rx="2.35" ry="1.55" transform="rotate(-12 203.24 88.38)" fill="url(#wellg)"/>
<ellipse cx="206.93" cy="92.09" rx="2.35" ry="1.55" transform="rotate(-12 206.93 92.09)" fill="url(#wellg)"/>
<ellipse cx="210.61" cy="95.8" rx="2.35" ry="1.55" transform="rotate(-12 210.61 95.8)" fill="url(#wellg)"/>
<ellipse cx="214.3" cy="99.51" rx="2.35" ry="1.55" transform="rotate(-12 214.3 99.51)" fill="url(#wellg)"/>
<ellipse cx="217.98" cy="103.22" rx="2.35" ry="1.55" transform="rotate(-12 217.98 103.22)" fill="url(#wellg)"/>
<ellipse cx="197.95" cy="75.22" rx="2.35" ry="1.55" transform="rotate(-12 197.95 75.22)" fill="url(#wellg)"/>
<ellipse cx="201.67" cy="78.9" rx="2.35" ry="1.55" transform="rotate(-12 201.67 78.9)" fill="url(#wellg)"/>
<ellipse cx="205.39" cy="82.58" rx="2.35" ry="1.55" transform="rotate(-12 205.39 82.58)" fill="url(#wellg)"/>
<ellipse cx="209.11" cy="86.27" rx="2.35" ry="1.55" transform="rotate(-12 209.11 86.27)" fill="url(#wellg)"/>
<ellipse cx="212.83" cy="89.95" rx="2.35" ry="1.55" transform="rotate(-12 212.83 89.95)" fill="url(#wellg)"/>
<ellipse cx="216.55" cy="93.63" rx="2.35" ry="1.55" transform="rotate(-12 216.55 93.63)" fill="url(#wellg)"/>
<ellipse cx="220.28" cy="97.31" rx="2.35" ry="1.55" transform="rotate(-12 220.28 97.31)" fill="url(#wellg)"/>
<ellipse cx="224" cy="101" rx="2.35" ry="1.55" transform="rotate(-12 224 101)" fill="url(#wellg)"/>
<ellipse cx="203.71" cy="73.19" rx="2.35" ry="1.55" transform="rotate(-12 203.71 73.19)" fill="url(#wellg)"/>
<ellipse cx="207.47" cy="76.84" rx="2.35" ry="1.55" transform="rotate(-12 207.47 76.84)" fill="url(#wellg)"/>
<ellipse cx="211.22" cy="80.5" rx="2.35" ry="1.55" transform="rotate(-12 211.22 80.5)" fill="url(#wellg)"/>
<ellipse cx="214.98" cy="84.15" rx="2.35" ry="1.55" transform="rotate(-12 214.98 84.15)" fill="url(#wellg)"/>
<ellipse cx="218.74" cy="87.81" rx="2.35" ry="1.55" transform="rotate(-12 218.74 87.81)" fill="url(#wellg)"/>
<ellipse cx="222.5" cy="91.46" rx="2.35" ry="1.55" transform="rotate(-12 222.5 91.46)" fill="url(#wellg)"/>
<ellipse cx="226.26" cy="95.12" rx="2.35" ry="1.55" transform="rotate(-12 226.26 95.12)" fill="url(#wellg)"/>
<ellipse cx="230.01" cy="98.77" rx="2.35" ry="1.55" transform="rotate(-12 230.01 98.77)" fill="url(#wellg)"/>
<ellipse cx="209.47" cy="71.15" rx="2.35" ry="1.55" transform="rotate(-12 209.47 71.15)" fill="url(#wellg)"/>
<ellipse cx="213.26" cy="74.78" rx="2.35" ry="1.55" transform="rotate(-12 213.26 74.78)" fill="url(#wellg)"/>
<ellipse cx="217.06" cy="78.41" rx="2.35" ry="1.55" transform="rotate(-12 217.06 78.41)" fill="url(#wellg)"/>
<ellipse cx="220.85" cy="82.04" rx="2.35" ry="1.55" transform="rotate(-12 220.85 82.04)" fill="url(#wellg)"/>
<ellipse cx="224.65" cy="85.66" rx="2.35" ry="1.55" transform="rotate(-12 224.65 85.66)" fill="url(#wellg)"/>
<ellipse cx="228.44" cy="89.29" rx="2.35" ry="1.55" transform="rotate(-12 228.44 89.29)" fill="url(#wellg)"/>
<ellipse cx="232.24" cy="92.92" rx="2.35" ry="1.55" transform="rotate(-12 232.24 92.92)" fill="url(#wellg)"/>
<ellipse cx="236.03" cy="96.55" rx="2.35" ry="1.55" transform="rotate(-12 236.03 96.55)" fill="url(#wellg)"/>
<ellipse cx="215.23" cy="69.12" rx="2.35" ry="1.55" transform="rotate(-12 215.23 69.12)" fill="url(#wellg)"/>
<ellipse cx="219.06" cy="72.72" rx="2.35" ry="1.55" transform="rotate(-12 219.06 72.72)" fill="url(#wellg)"/>
<ellipse cx="222.89" cy="76.32" rx="2.35" ry="1.55" transform="rotate(-12 222.89 76.32)" fill="url(#wellg)"/>
<ellipse cx="226.72" cy="79.92" rx="2.35" ry="1.55" transform="rotate(-12 226.72 79.92)" fill="url(#wellg)"/>
<ellipse cx="230.55" cy="83.52" rx="2.35" ry="1.55" transform="rotate(-12 230.55 83.52)" fill="url(#wellg)"/>
<ellipse cx="234.39" cy="87.12" rx="2.35" ry="1.55" transform="rotate(-12 234.39 87.12)" fill="url(#wellg)"/>
<ellipse cx="238.22" cy="90.72" rx="2.35" ry="1.55" transform="rotate(-12 238.22 90.72)" fill="url(#wellg)"/>
<ellipse cx="242.05" cy="94.32" rx="2.35" ry="1.55" transform="rotate(-12 242.05 94.32)" fill="url(#wellg)"/>
<ellipse cx="220.99" cy="67.09" rx="2.35" ry="1.55" transform="rotate(-12 220.99 67.09)" fill="url(#wellg)"/>
<ellipse cx="224.86" cy="70.66" rx="2.35" ry="1.55" transform="rotate(-12 224.86 70.66)" fill="url(#wellg)"/>
<ellipse cx="228.73" cy="74.23" rx="2.35" ry="1.55" transform="rotate(-12 228.73 74.23)" fill="url(#wellg)"/>
<ellipse cx="232.6" cy="77.8" rx="2.35" ry="1.55" transform="rotate(-12 232.6 77.8)" fill="url(#wellg)"/>
<ellipse cx="236.46" cy="81.38" rx="2.35" ry="1.55" transform="rotate(-12 236.46 81.38)" fill="url(#wellg)"/>
<ellipse cx="240.33" cy="84.95" rx="2.35" ry="1.55" transform="rotate(-12 240.33 84.95)" fill="url(#wellg)"/>
<ellipse cx="244.2" cy="88.52" rx="2.35" ry="1.55" transform="rotate(-12 244.2 88.52)" fill="url(#wellg)"/>
<ellipse cx="248.06" cy="92.1" rx="2.35" ry="1.55" transform="rotate(-12 248.06 92.1)" fill="url(#wellg)"/>
</g>
<path d="M435.4 97.3L462 96.19" stroke="#111" stroke-width="1.5"/><polygon points="466.6,96 462.09,98.29 461.92,94.09" fill="#111"/>
<g transform="translate(490.3 86) rotate(45.78)">
<path d="M-6.4 -56.92740991824589 L-6.4 0 A6.4 6.4 0 0 0 6.4 0 L6.4 -56.92740991824589 Z" fill="url(#glassg)"/>
<path d="M-6.4 -23.25 L-6.4 0 A6.4 6.4 0 0 0 6.4 0 L6.4 -36.4 Z" fill="url(#liqg)"/>
<rect x="-8.0" y="-58.33" width="16.0" height="2.8" rx="1.3" fill="#7db9e6"/>
<circle cx="-1.5" cy="-10" r="1.1" fill="#8fe083" opacity="0.8"/><circle cx="1.5" cy="-21" r="0.8" fill="#8fe083" opacity="0.8"/><circle cx="0.5" cy="-30" r="0.9" fill="#8fe083" opacity="0.8"/>
</g>
<circle cx="534.8" cy="37.5" r="2.0" fill="#7fd873" stroke="#a9e8a0" stroke-width="0.5"/>
<circle cx="541.2" cy="38.0" r="3.0" fill="#7fd873" stroke="#a9e8a0" stroke-width="0.5"/>
<circle cx="539.7" cy="32.6" r="1.2" fill="#7fd873" stroke="#a9e8a0" stroke-width="0.5"/>
<circle cx="536.8" cy="44.2" r="1.5" fill="#7fd873" stroke="#a9e8a0" stroke-width="0.5"/>
<path d="M557.7 98L584.3 97.15" stroke="#111" stroke-width="1.5"/><polygon points="588.9,97 584.37,99.25 584.24,95.05" fill="#111"/>
<g font-size="10" font-style="italic" fill="#222" text-anchor="middle"><text x="370.3" y="18.2" textLength="90" lengthAdjust="spacingAndGlyphs">β-Carbolines (1-12)</text><text x="370.2" y="30.4" textLength="43.7" lengthAdjust="spacingAndGlyphs">or vehicle</text></g>
<g fill="#222" text-anchor="middle">
<text x="201.2" y="155.6" font-size="11.2" textLength="23.7" lengthAdjust="spacingAndGlyphs">AML</text>
<text x="202.8" y="171.4" font-size="11.2" textLength="62.2" lengthAdjust="spacingAndGlyphs">cell seeding</text>
<text x="369.7" y="159.1" font-size="11.2" textLength="54.7" lengthAdjust="spacingAndGlyphs">Treatment</text>
<text x="514.3" y="142.6" font-size="12.2" textLength="57.8" lengthAdjust="spacingAndGlyphs">DCFH-DA</text>
<text x="514" y="161" font-size="12.2" textLength="48.5" lengthAdjust="spacingAndGlyphs">staining</text>
<text x="643.4" y="90.7" font-size="13.4" textLength="69.9" lengthAdjust="spacingAndGlyphs">Analysis by</text>
<text x="643.1" y="109.7" font-size="13.4" textLength="26.6" lengthAdjust="spacingAndGlyphs">flow</text>
<text x="643.1" y="128.5" font-size="13.4" textLength="65.4" lengthAdjust="spacingAndGlyphs">cytometry</text>
</g>
<text x="-0.2" y="22.9" font-size="33.5" stroke="#000" stroke-width="0.35">A</text>
<text x="1.7" y="213" font-size="33.5" stroke="#000" stroke-width="0.35">B</text>
<text x="208.8" y="208.2" font-size="23" stroke="#000" stroke-width="0.3" text-anchor="middle" textLength="111" lengthAdjust="spacingAndGlyphs">OCI-AML3</text>
<text x="402.5" y="207.8" font-size="22.3" stroke="#000" stroke-width="0.3" text-anchor="middle" textLength="57.2" lengthAdjust="spacingAndGlyphs">U937</text>
<text x="601" y="207.8" font-size="22.3" stroke="#000" stroke-width="0.3" text-anchor="middle" textLength="55.2" lengthAdjust="spacingAndGlyphs">K562</text>
<text x="55.9" y="305.1" font-size="24" font-weight="700" text-anchor="middle">5</text>
<text x="55.9" y="461.6" font-size="24" font-weight="700" text-anchor="middle">6</text>
<text x="55.9" y="632.7" font-size="24" font-weight="700" text-anchor="middle">7</text>
<text x="55.9" y="796" font-size="24" font-weight="700" text-anchor="middle">8</text>
<text x="55.9" y="959.4" font-size="24" font-weight="700" text-anchor="middle">9</text>
<g>
<text transform="translate(107.18 308.1) rotate(-90)" text-anchor="middle" font-size="15.09" font-weight="700">DFCHDA (MFI)</text>
<path d="M145.75 265.75V260.75M138.13 260.75H153.37" stroke="#444" stroke-width="1" fill="none"/>
<rect x="131.1" y="265.75" width="29.3" height="98.75" fill="#a2a2a6" stroke="#111" stroke-width="0.9"/>
<path d="M181.75 329.5V327.25M174.13 327.25H189.37" stroke="#222" stroke-width="1" fill="none"/>
<rect x="167.1" y="329.5" width="29.3" height="35" fill="#0000fa" stroke="#111" stroke-width="0.9"/>
<path d="M217.5 344.5V342.5M209.88 342.5H225.12" stroke="#222" stroke-width="1" fill="none"/>
<rect x="202.85" y="344.5" width="29.3" height="20" fill="#f44242" stroke="#111" stroke-width="0.9"/>
<path d="M253.25 363.5V363M245.63 363H260.87" stroke="#222" stroke-width="1" fill="none"/>
<rect x="238.6" y="363.5" width="29.3" height="1" fill="#f3b87d" stroke="#111" stroke-width="0.9"/>
<path d="M128.5 256.25V364.5" stroke="#111" stroke-width="1" fill="none"/>
<path d="M128 364.5H272" stroke="#111" stroke-width="1.1" fill="none"/>
<path d="M126.8 364.5H128.5" stroke="#222" stroke-width="0.8"/>
<text x="125.8" y="366.93" text-anchor="end" font-size="6.74" font-weight="700">0</text>
<path d="M126.8 337.44H128.5" stroke="#222" stroke-width="0.8"/>
<text x="125.8" y="339.86" text-anchor="end" font-size="6.74" font-weight="700">50</text>
<path d="M126.8 310.38H128.5" stroke="#222" stroke-width="0.8"/>
<text x="125.8" y="312.8" text-anchor="end" font-size="6.74" font-weight="700">100</text>
<path d="M126.8 283.31H128.5" stroke="#222" stroke-width="0.8"/>
<text x="125.8" y="285.74" text-anchor="end" font-size="6.74" font-weight="700">150</text>
<path d="M126.8 256.25H128.5" stroke="#222" stroke-width="0.8"/>
<text x="125.8" y="258.68" text-anchor="end" font-size="6.74" font-weight="700">200</text>
<path d="M145.75 364.5v2.2" stroke="#333" stroke-width="0.7"/>
<path d="M181.75 364.5v2.2" stroke="#333" stroke-width="0.7"/>
<path d="M217.5 364.5v2.2" stroke="#333" stroke-width="0.7"/>
<path d="M253.25 364.5v2.2" stroke="#333" stroke-width="0.7"/>
<path d="M145.75 258.15V255.75H180.45V258.15" stroke="#6e6e6e" stroke-width="0.7" fill="none"/>
<text x="163.8" y="255.25" text-anchor="middle" font-size="9" font-weight="700" font-style="italic" fill="#111" letter-spacing="0.2">****</text>
<path d="M182.75 258.15V255.75H216.7V258.15" stroke="#6e6e6e" stroke-width="0.7" fill="none"/>
<text x="200.42" y="255.25" text-anchor="middle" font-size="9" font-weight="700" font-style="italic" fill="#111" letter-spacing="0.2">****</text>
<path d="M218.5 258.15V255.75H253.25V258.15" stroke="#6e6e6e" stroke-width="0.7" fill="none"/>
<text x="236.57" y="255.25" text-anchor="middle" font-size="9" font-weight="700" font-style="italic" fill="#111" letter-spacing="0.2">****</text>
<path d="M145.75 246.65V244.25H217.1V246.65" stroke="#6e6e6e" stroke-width="0.7" fill="none"/>
<text x="182.12" y="243.75" text-anchor="middle" font-size="9" font-weight="700" font-style="italic" fill="#111" letter-spacing="0.2">****</text>
<path d="M181.75 236.15V233.75H253.25V236.15" stroke="#6e6e6e" stroke-width="0.7" fill="none"/>
<text x="218.2" y="233.25" text-anchor="middle" font-size="9" font-weight="700" font-style="italic" fill="#111" letter-spacing="0.2">****</text>
<path d="M145.75 224.4V222H253.25V224.4" stroke="#6e6e6e" stroke-width="0.7" fill="none"/>
<text x="200.2" y="221.5" text-anchor="middle" font-size="9" font-weight="700" font-style="italic" fill="#111" letter-spacing="0.2">****</text>
</g>
<g>
<text transform="translate(307.42 306.8) rotate(-90)" text-anchor="middle" font-size="15.48" font-weight="700">DFCHDA (MFI)</text>
<path d="M347 309.5V297.25M339.3 297.25H354.7" stroke="#444" stroke-width="1" fill="none"/>
<rect x="332.2" y="309.5" width="29.6" height="54.75" fill="#a2a2a6" stroke="#111" stroke-width="0.9"/>
<path d="M383.25 316.75V304.75M375.55 304.75H390.95" stroke="#222" stroke-width="1" fill="none"/>
<rect x="368.45" y="316.75" width="29.6" height="47.5" fill="#0000fa" stroke="#111" stroke-width="0.9"/>
<path d="M419.6 332.5V330.5M411.9 330.5H427.3" stroke="#222" stroke-width="1" fill="none"/>
<rect x="404.8" y="332.5" width="29.6" height="31.75" fill="#f44242" stroke="#111" stroke-width="0.9"/>
<path d="M456.1 339.25V328.5M448.4 328.5H463.8" stroke="#222" stroke-width="1" fill="none"/>
<rect x="441.3" y="339.25" width="29.6" height="25" fill="#f3b87d" stroke="#111" stroke-width="0.9"/>
<path d="M329.25 253.5V364.25" stroke="#111" stroke-width="1" fill="none"/>
<path d="M328.75 364.25H475" stroke="#111" stroke-width="1.1" fill="none"/>
<path d="M327.51 364.25H329.25" stroke="#222" stroke-width="0.8"/>
<text x="326.49" y="366.72" text-anchor="end" font-size="6.85" font-weight="700">0</text>
<path d="M327.51 336.56H329.25" stroke="#222" stroke-width="0.8"/>
<text x="326.49" y="339.03" text-anchor="end" font-size="6.85" font-weight="700">50</text>
<path d="M327.51 308.88H329.25" stroke="#222" stroke-width="0.8"/>
<text x="326.49" y="311.34" text-anchor="end" font-size="6.85" font-weight="700">100</text>
<path d="M327.51 281.19H329.25" stroke="#222" stroke-width="0.8"/>
<text x="326.49" y="283.65" text-anchor="end" font-size="6.85" font-weight="700">150</text>
<path d="M327.51 253.5H329.25" stroke="#222" stroke-width="0.8"/>
<text x="326.49" y="255.97" text-anchor="end" font-size="6.85" font-weight="700">200</text>
<path d="M347 364.25v2.25" stroke="#333" stroke-width="0.7"/>
<path d="M383.25 364.25v2.25" stroke="#333" stroke-width="0.7"/>
<path d="M419.6 364.25v2.25" stroke="#333" stroke-width="0.7"/>
<path d="M456.1 364.25v2.25" stroke="#333" stroke-width="0.7"/>
<path d="M347 294.21V291.75H381.92V294.21" stroke="#6e6e6e" stroke-width="0.7" fill="none"/>
<text x="364.46" y="289.4" text-anchor="middle" font-size="5.32" font-style="italic" fill="#9a9a9a">ns</text>
<path d="M384.27 294.21V291.75H418.78V294.21" stroke="#6e6e6e" stroke-width="0.7" fill="none"/>
<text x="401.53" y="289.4" text-anchor="middle" font-size="5.32" font-style="italic" fill="#9a9a9a">ns</text>
<path d="M420.62 294.21V291.75H456.1V294.21" stroke="#6e6e6e" stroke-width="0.7" fill="none"/>
<text x="438.36" y="289.4" text-anchor="middle" font-size="5.32" font-style="italic" fill="#9a9a9a">ns</text>
<path d="M347 282.96V280.5H419.19V282.96" stroke="#2a2a2a" stroke-width="0.9" fill="none"/>
<text x="383.81" y="279.99" text-anchor="middle" font-size="9.21" font-weight="700" font-style="italic" fill="#111" letter-spacing="0.2">*</text>
<path d="M383.25 271.46V269H456.1V271.46" stroke="#6e6e6e" stroke-width="0.7" fill="none"/>
<text x="420.39" y="268.49" text-anchor="middle" font-size="9.21" font-weight="700" font-style="italic" fill="#111" letter-spacing="0.2">*</text>
<path d="M347 259.96V257.5H456.1V259.96" stroke="#2a2a2a" stroke-width="0.9" fill="none"/>
<text x="402.27" y="256.99" text-anchor="middle" font-size="9.21" font-weight="700" font-style="italic" fill="#111" letter-spacing="0.2">**</text>
</g>
<g>
<text transform="translate(514.03 306.7) rotate(-90)" text-anchor="middle" font-size="15.51" font-weight="700">DFCHDA (MFI)</text>
<path d="M553.75 307.5V305.25M546.05 305.25H561.45" stroke="#444" stroke-width="1" fill="none"/>
<rect x="538.95" y="307.5" width="29.6" height="56.75" fill="#a2a2a6" stroke="#111" stroke-width="0.9"/>
<path d="M589.9 319V300.5M582.2 300.5H597.6" stroke="#222" stroke-width="1" fill="none"/>
<rect x="575.1" y="319" width="29.6" height="45.25" fill="#0000fa" stroke="#111" stroke-width="0.9"/>
<path d="M626.25 319.5V298.5M618.55 298.5H633.95" stroke="#222" stroke-width="1" fill="none"/>
<rect x="611.45" y="319.5" width="29.6" height="44.75" fill="#f44242" stroke="#111" stroke-width="0.9"/>
<path d="M662.75 330.75V330M655.05 330H670.45" stroke="#222" stroke-width="1" fill="none"/>
<rect x="647.95" y="330.75" width="29.6" height="33.5" fill="#f3b87d" stroke="#111" stroke-width="0.9"/>
<path d="M535.6 253.5V364.25" stroke="#555" stroke-width="1" fill="none"/>
<path d="M535.1 364.25H681" stroke="#111" stroke-width="1.1" fill="none"/>
<path d="M533.86 364.25H535.6" stroke="#222" stroke-width="0.8"/>
<text x="532.84" y="366.72" text-anchor="end" font-size="6.85" font-weight="700">0</text>
<path d="M533.86 336.56H535.6" stroke="#222" stroke-width="0.8"/>
<text x="532.84" y="339.03" text-anchor="end" font-size="6.85" font-weight="700">50</text>
<path d="M533.86 308.88H535.6" stroke="#222" stroke-width="0.8"/>
<text x="532.84" y="311.34" text-anchor="end" font-size="6.85" font-weight="700">100</text>
<path d="M533.86 281.19H535.6" stroke="#222" stroke-width="0.8"/>
<text x="532.84" y="283.65" text-anchor="end" font-size="6.85" font-weight="700">150</text>
<path d="M533.86 253.5H535.6" stroke="#222" stroke-width="0.8"/>
<text x="532.84" y="255.97" text-anchor="end" font-size="6.85" font-weight="700">200</text>
<path d="M553.75 364.25v2.25" stroke="#333" stroke-width="0.7"/>
<path d="M589.9 364.25v2.25" stroke="#333" stroke-width="0.7"/>
<path d="M626.25 364.25v2.25" stroke="#333" stroke-width="0.7"/>
<path d="M662.75 364.25v2.25" stroke="#333" stroke-width="0.7"/>
<path d="M553.75 295.71V293.25H588.57V295.71" stroke="#6e6e6e" stroke-width="0.7" fill="none"/>
<text x="571.16" y="290.9" text-anchor="middle" font-size="5.32" font-style="italic" fill="#9a9a9a">ns</text>
<path d="M590.92 295.71V293.25H625.43V295.71" stroke="#2a2a2a" stroke-width="0.9" fill="none"/>
<text x="608.18" y="290.9" text-anchor="middle" font-size="5.32" font-style="italic" fill="#9a9a9a">ns</text>
<path d="M627.27 295.71V293.25H662.75V295.71" stroke="#6e6e6e" stroke-width="0.7" fill="none"/>
<text x="645.01" y="290.9" text-anchor="middle" font-size="5.32" font-style="italic" fill="#9a9a9a">ns</text>
<path d="M553.75 284.21V281.75H625.84V284.21" stroke="#6e6e6e" stroke-width="0.7" fill="none"/>
<text x="589.8" y="279.4" text-anchor="middle" font-size="5.32" font-style="italic" fill="#9a9a9a">ns</text>
<path d="M589.9 272.96V270.5H662.75V272.96" stroke="#2a2a2a" stroke-width="0.9" fill="none"/>
<text x="626.33" y="268.15" text-anchor="middle" font-size="5.32" font-style="italic" fill="#9a9a9a">ns</text>
<path d="M553.75 261.21V258.75H662.75V261.21" stroke="#6e6e6e" stroke-width="0.7" fill="none"/>
<text x="608.97" y="258.24" text-anchor="middle" font-size="9.21" font-weight="700" font-style="italic" fill="#111" letter-spacing="0.2">*</text>
</g>
<g>
<text transform="translate(107.18 476.1) rotate(-90)" text-anchor="middle" font-size="15.09" font-weight="700">DFCHDA (MFI)</text>
<path d="M145.75 434.25V426.5M138.13 426.5H153.37" stroke="#444" stroke-width="1" fill="none"/>
<rect x="131.1" y="434.25" width="29.3" height="98.25" fill="#a2a2a6" stroke="#111" stroke-width="0.9"/>
<path d="M181.75 492.25V488.5M174.13 488.5H189.37" stroke="#222" stroke-width="1" fill="none"/>
<rect x="167.1" y="492.25" width="29.3" height="40.25" fill="#0000fa" stroke="#111" stroke-width="0.9"/>
<path d="M217.5 528.5V525.75M209.88 525.75H225.12" stroke="#222" stroke-width="1" fill="none"/>
<rect x="202.85" y="528.5" width="29.3" height="4" fill="#f44242" stroke="#111" stroke-width="0.9"/>
<path d="M253.25 530.25V528.5M245.63 528.5H260.87" stroke="#222" stroke-width="1" fill="none"/>
<rect x="238.6" y="530.25" width="29.3" height="2.25" fill="#f3b87d" stroke="#111" stroke-width="0.9"/>
<path d="M128.5 424.75V532.5" stroke="#111" stroke-width="1" fill="none"/>
<path d="M128 532.5H272" stroke="#111" stroke-width="1.1" fill="none"/>
<path d="M126.81 532.5H128.5" stroke="#222" stroke-width="0.8"/>
<text x="125.81" y="534.93" text-anchor="end" font-size="6.74" font-weight="700">0</text>
<path d="M126.81 505.56H128.5" stroke="#222" stroke-width="0.8"/>
<text x="125.81" y="507.99" text-anchor="end" font-size="6.74" font-weight="700">50</text>
<path d="M126.81 478.62H128.5" stroke="#222" stroke-width="0.8"/>
<text x="125.81" y="481.05" text-anchor="end" font-size="6.74" font-weight="700">100</text>
<path d="M126.81 451.69H128.5" stroke="#222" stroke-width="0.8"/>
<text x="125.81" y="454.11" text-anchor="end" font-size="6.74" font-weight="700">150</text>
<path d="M126.81 424.75H128.5" stroke="#222" stroke-width="0.8"/>
<text x="125.81" y="427.18" text-anchor="end" font-size="6.74" font-weight="700">200</text>
<path d="M145.75 532.5v2.19" stroke="#333" stroke-width="0.7"/>
<path d="M181.75 532.5v2.19" stroke="#333" stroke-width="0.7"/>
<path d="M217.5 532.5v2.19" stroke="#333" stroke-width="0.7"/>
<path d="M253.25 532.5v2.19" stroke="#333" stroke-width="0.7"/>
<path d="M145.75 423.39V421H180.46V423.39" stroke="#6e6e6e" stroke-width="0.7" fill="none"/>
<text x="163.8" y="420.5" text-anchor="middle" font-size="8.96" font-weight="700" font-style="italic" fill="#111" letter-spacing="0.2">****</text>
<path d="M182.75 423.39V421H216.7V423.39" stroke="#6e6e6e" stroke-width="0.7" fill="none"/>
<text x="200.42" y="420.5" text-anchor="middle" font-size="8.96" font-weight="700" font-style="italic" fill="#111" letter-spacing="0.2">****</text>
<path d="M218.5 423.39V421H253.25V423.39" stroke="#6e6e6e" stroke-width="0.7" fill="none"/>
<text x="235.87" y="418.71" text-anchor="middle" font-size="5.18" font-style="italic" fill="#9a9a9a">ns</text>
<path d="M145.75 412.39V410H217.1V412.39" stroke="#cfcfcf" stroke-width="0.6" fill="none"/>
<text x="182.12" y="409.5" text-anchor="middle" font-size="8.96" font-weight="700" font-style="italic" fill="#111" letter-spacing="0.2">****</text>
<path d="M181.75 401.14V398.75H253.25V401.14" stroke="#2a2a2a" stroke-width="0.9" fill="none"/>
<text x="218.2" y="398.25" text-anchor="middle" font-size="8.96" font-weight="700" font-style="italic" fill="#111" letter-spacing="0.2">****</text>
<path d="M145.75 389.64V387.25H253.25V389.64" stroke="#6e6e6e" stroke-width="0.7" fill="none"/>
<text x="200.2" y="386.75" text-anchor="middle" font-size="8.96" font-weight="700" font-style="italic" fill="#111" letter-spacing="0.2">****</text>
</g>
<g>
<text transform="translate(306 482.6) rotate(-90)" text-anchor="middle" font-size="13.72" font-weight="700">DFCHDA (MFI)</text>
<path d="M340.5 464.5V444.5M333.69 444.5H347.31" stroke="#444" stroke-width="0.91" fill="none"/>
<rect x="327.4" y="464.5" width="26.2" height="68.75" fill="#a2a2a6" stroke="#111" stroke-width="0.9"/>
<path d="M372.9 512.75V500.5M366.09 500.5H379.71" stroke="#222" stroke-width="0.91" fill="none"/>
<rect x="359.8" y="512.75" width="26.2" height="20.5" fill="#0000fa" stroke="#111" stroke-width="0.9"/>
<path d="M405.25 510.25V508.75M398.44 508.75H412.06" stroke="#222" stroke-width="0.91" fill="none"/>
<rect x="392.15" y="510.25" width="26.2" height="23" fill="#f44242" stroke="#111" stroke-width="0.9"/>
<path d="M437.5 524.25V511.5M430.69 511.5H444.31" stroke="#222" stroke-width="0.91" fill="none"/>
<rect x="424.4" y="524.25" width="26.2" height="9" fill="#f3b87d" stroke="#111" stroke-width="0.9"/>
<path d="M324.5 435V533.25" stroke="#111" stroke-width="1" fill="none"/>
<path d="M324 533.25H453.75" stroke="#111" stroke-width="1.1" fill="none"/>
<path d="M322.96 533.25H324.5" stroke="#222" stroke-width="0.8"/>
<text x="322.05" y="535.45" text-anchor="end" font-size="6.1" font-weight="700">0</text>
<path d="M322.96 508.69H324.5" stroke="#222" stroke-width="0.8"/>
<text x="322.05" y="510.88" text-anchor="end" font-size="6.1" font-weight="700">50</text>
<path d="M322.96 484.12H324.5" stroke="#222" stroke-width="0.8"/>
<text x="322.05" y="486.32" text-anchor="end" font-size="6.1" font-weight="700">100</text>
<path d="M322.96 459.56H324.5" stroke="#222" stroke-width="0.8"/>
<text x="322.05" y="461.76" text-anchor="end" font-size="6.1" font-weight="700">150</text>
<path d="M322.96 435H324.5" stroke="#222" stroke-width="0.8"/>
<text x="322.05" y="437.2" text-anchor="end" font-size="6.1" font-weight="700">200</text>
<path d="M340.5 533.25v2" stroke="#333" stroke-width="0.7"/>
<path d="M372.9 533.25v2" stroke="#333" stroke-width="0.7"/>
<path d="M405.25 533.25v2" stroke="#333" stroke-width="0.7"/>
<path d="M437.5 533.25v2" stroke="#333" stroke-width="0.7"/>
<path d="M340.5 442.43V440.25H371.72V442.43" stroke="#6e6e6e" stroke-width="0.7" fill="none"/>
<text x="356.75" y="439.8" text-anchor="middle" font-size="8.17" font-weight="700" font-style="italic" fill="#111" letter-spacing="0.18">****</text>
<path d="M373.81 442.43V440.25H404.52V442.43" stroke="#6e6e6e" stroke-width="0.7" fill="none"/>
<text x="389.17" y="438.16" text-anchor="middle" font-size="4.72" font-style="italic" fill="#9a9a9a">ns</text>
<path d="M406.16 442.43V440.25H437.5V442.43" stroke="#6e6e6e" stroke-width="0.7" fill="none"/>
<text x="421.83" y="438.16" text-anchor="middle" font-size="4.72" font-style="italic" fill="#9a9a9a">ns</text>
<path d="M340.5 431.68V429.5H404.89V431.68" stroke="#2a2a2a" stroke-width="0.9" fill="none"/>
<text x="373.33" y="429.05" text-anchor="middle" font-size="8.17" font-weight="700" font-style="italic" fill="#111" letter-spacing="0.18">****</text>
<path d="M372.9 421.93V419.75H437.5V421.93" stroke="#6e6e6e" stroke-width="0.7" fill="none"/>
<text x="405.2" y="417.66" text-anchor="middle" font-size="4.72" font-style="italic" fill="#9a9a9a">ns</text>
<path d="M340.5 411.93V409.75H437.5V411.93" stroke="#2a2a2a" stroke-width="0.9" fill="none"/>
<text x="389.64" y="409.3" text-anchor="middle" font-size="8.17" font-weight="700" font-style="italic" fill="#111" letter-spacing="0.18">****</text>
</g>
<g>
<text transform="translate(512.06 481.55) rotate(-90)" text-anchor="middle" font-size="13.88" font-weight="700">DFCHDA (MFI)</text>
<path d="M548.1 481.75V479.75M541.05 479.75H555.15" stroke="#444" stroke-width="0.93" fill="none"/>
<rect x="534.55" y="481.75" width="27.1" height="51.75" fill="#a2a2a6" stroke="#111" stroke-width="0.9"/>
<path d="M581.25 468.75V450.5M574.2 450.5H588.3" stroke="#222" stroke-width="0.93" fill="none"/>
<rect x="567.7" y="468.75" width="27.1" height="64.75" fill="#0000fa" stroke="#111" stroke-width="0.9"/>
<path d="M614.25 480V479.25M607.2 479.25H621.3" stroke="#222" stroke-width="0.93" fill="none"/>
<rect x="600.7" y="480" width="27.1" height="53.5" fill="#f44242" stroke="#111" stroke-width="0.9"/>
<path d="M647.25 522.75V507.25M640.2 507.25H654.3" stroke="#222" stroke-width="0.93" fill="none"/>
<rect x="633.7" y="522.75" width="27.1" height="10.75" fill="#f3b87d" stroke="#111" stroke-width="0.9"/>
<path d="M531.25 433.25V533.5" stroke="#111" stroke-width="1" fill="none"/>
<path d="M530.75 533.5H664" stroke="#111" stroke-width="1.1" fill="none"/>
<path d="M529.68 533.5H531.25" stroke="#222" stroke-width="0.8"/>
<text x="528.75" y="535.73" text-anchor="end" font-size="6.21" font-weight="700">0</text>
<path d="M529.68 508.44H531.25" stroke="#222" stroke-width="0.8"/>
<text x="528.75" y="510.67" text-anchor="end" font-size="6.21" font-weight="700">50</text>
<path d="M529.68 483.38H531.25" stroke="#222" stroke-width="0.8"/>
<text x="528.75" y="485.61" text-anchor="end" font-size="6.21" font-weight="700">100</text>
<path d="M529.68 458.31H531.25" stroke="#222" stroke-width="0.8"/>
<text x="528.75" y="460.55" text-anchor="end" font-size="6.21" font-weight="700">150</text>
<path d="M529.68 433.25H531.25" stroke="#222" stroke-width="0.8"/>
<text x="528.75" y="435.48" text-anchor="end" font-size="6.21" font-weight="700">200</text>
<path d="M548.1 533.5v2.04" stroke="#333" stroke-width="0.7"/>
<path d="M581.25 533.5v2.04" stroke="#333" stroke-width="0.7"/>
<path d="M614.25 533.5v2.04" stroke="#333" stroke-width="0.7"/>
<path d="M647.25 533.5v2.04" stroke="#333" stroke-width="0.7"/>
<path d="M548.1 447.97V445.75H580.05V447.97" stroke="#6e6e6e" stroke-width="0.7" fill="none"/>
<text x="564.07" y="443.62" text-anchor="middle" font-size="4.82" font-style="italic" fill="#9a9a9a">ns</text>
<path d="M582.18 447.97V445.75H613.51V447.97" stroke="#6e6e6e" stroke-width="0.7" fill="none"/>
<text x="597.84" y="443.62" text-anchor="middle" font-size="4.82" font-style="italic" fill="#9a9a9a">ns</text>
<path d="M615.18 447.97V445.75H647.25V447.97" stroke="#6e6e6e" stroke-width="0.7" fill="none"/>
<text x="631.86" y="445.29" text-anchor="middle" font-size="8.33" font-weight="700" font-style="italic" fill="#111" letter-spacing="0.19">****</text>
<path d="M548.1 437.72V435.5H613.88V437.72" stroke="#6e6e6e" stroke-width="0.7" fill="none"/>
<text x="580.99" y="433.37" text-anchor="middle" font-size="4.82" font-style="italic" fill="#9a9a9a">ns</text>
<path d="M581.25 427.22V425H647.25V427.22" stroke="#6e6e6e" stroke-width="0.7" fill="none"/>
<text x="614.9" y="424.54" text-anchor="middle" font-size="8.33" font-weight="700" font-style="italic" fill="#111" letter-spacing="0.19">****</text>
<path d="M548.1 416.47V414.25H647.25V416.47" stroke="#6e6e6e" stroke-width="0.7" fill="none"/>
<text x="598.32" y="413.79" text-anchor="middle" font-size="8.33" font-weight="700" font-style="italic" fill="#111" letter-spacing="0.19">****</text>
</g>
<g>
<text transform="translate(104.32 644.7) rotate(-90)" text-anchor="middle" font-size="12.35" font-weight="700">DFCHDA (MFI)</text>
<path d="M136 610V603.75M129.86 603.75H142.14" stroke="#444" stroke-width="0.82" fill="none"/>
<rect x="124.2" y="610" width="23.6" height="80.5" fill="#a2a2a6" stroke="#111" stroke-width="0.9"/>
<path d="M165.1 669V666.5M158.96 666.5H171.24" stroke="#222" stroke-width="0.82" fill="none"/>
<rect x="153.3" y="669" width="23.6" height="21.5" fill="#0000fa" stroke="#111" stroke-width="0.9"/>
<path d="M194.25 687.5V685.5M188.11 685.5H200.39" stroke="#222" stroke-width="0.82" fill="none"/>
<rect x="182.45" y="687.5" width="23.6" height="3" fill="#f44242" stroke="#111" stroke-width="0.9"/>
<path d="M223.25 688V685.5M217.11 685.5H229.39" stroke="#222" stroke-width="0.82" fill="none"/>
<rect x="211.45" y="688" width="23.6" height="2.5" fill="#f3b87d" stroke="#111" stroke-width="0.9"/>
<path d="M122 602V690.5" stroke="#111" stroke-width="1" fill="none"/>
<path d="M121.5 690.5H238" stroke="#111" stroke-width="1.1" fill="none"/>
<path d="M120.61 690.5H122" stroke="#222" stroke-width="0.8"/>
<text x="119.79" y="692.46" text-anchor="end" font-size="5.46" font-weight="700">0</text>
<path d="M120.61 668.38H122" stroke="#222" stroke-width="0.8"/>
<text x="119.79" y="670.34" text-anchor="end" font-size="5.46" font-weight="700">50</text>
<path d="M120.61 646.25H122" stroke="#222" stroke-width="0.8"/>
<text x="119.79" y="648.21" text-anchor="end" font-size="5.46" font-weight="700">100</text>
<path d="M120.61 624.12H122" stroke="#222" stroke-width="0.8"/>
<text x="119.79" y="626.09" text-anchor="end" font-size="5.46" font-weight="700">150</text>
<path d="M120.61 602H122" stroke="#222" stroke-width="0.8"/>
<text x="119.79" y="603.96" text-anchor="end" font-size="5.46" font-weight="700">200</text>
<path d="M136 690.5v1.8" stroke="#333" stroke-width="0.7"/>
<path d="M165.1 690.5v1.8" stroke="#333" stroke-width="0.7"/>
<path d="M194.25 690.5v1.8" stroke="#333" stroke-width="0.7"/>
<path d="M223.25 690.5v1.8" stroke="#333" stroke-width="0.7"/>
<path d="M136 601.21V599.25H164.04V601.21" stroke="#6e6e6e" stroke-width="0.7" fill="none"/>
<text x="150.59" y="598.84" text-anchor="middle" font-size="7.36" font-weight="700" font-style="italic" fill="#111" letter-spacing="0.16">****</text>
<path d="M165.92 601.21V599.25H193.6V601.21" stroke="#6e6e6e" stroke-width="0.7" fill="none"/>
<text x="180.33" y="598.84" text-anchor="middle" font-size="7.36" font-weight="700" font-style="italic" fill="#111" letter-spacing="0.16">****</text>
<path d="M195.07 601.21V599.25H223.25V601.21" stroke="#6e6e6e" stroke-width="0.7" fill="none"/>
<text x="209.16" y="597.37" text-anchor="middle" font-size="4.25" font-style="italic" fill="#9a9a9a">ns</text>
<path d="M136 592.46V590.5H193.92V592.46" stroke="#6e6e6e" stroke-width="0.7" fill="none"/>
<text x="165.53" y="590.09" text-anchor="middle" font-size="7.36" font-weight="700" font-style="italic" fill="#111" letter-spacing="0.16">****</text>
<path d="M165.1 583.71V581.75H223.25V583.71" stroke="#6e6e6e" stroke-width="0.7" fill="none"/>
<text x="194.75" y="581.34" text-anchor="middle" font-size="7.36" font-weight="700" font-style="italic" fill="#111" letter-spacing="0.16">****</text>
<path d="M136 574.21V572.25H223.25V574.21" stroke="#6e6e6e" stroke-width="0.7" fill="none"/>
<text x="180.2" y="571.84" text-anchor="middle" font-size="7.36" font-weight="700" font-style="italic" fill="#111" letter-spacing="0.16">****</text>
</g>
<g>
<text transform="translate(307.42 631.8) rotate(-90)" text-anchor="middle" font-size="15.48" font-weight="700">DFCHDA (MFI)</text>
<path d="M347 625.25V623.5M339.3 623.5H354.7" stroke="#444" stroke-width="1" fill="none"/>
<rect x="332.2" y="625.25" width="29.6" height="64.25" fill="#a2a2a6" stroke="#111" stroke-width="0.9"/>
<path d="M383.25 652.25V643.5M375.55 643.5H390.95" stroke="#222" stroke-width="1" fill="none"/>
<rect x="368.45" y="652.25" width="29.6" height="37.25" fill="#0000fa" stroke="#111" stroke-width="0.9"/>
<path d="M419.6 647.75V638M411.9 638H427.3" stroke="#222" stroke-width="1" fill="none"/>
<rect x="404.8" y="647.75" width="29.6" height="41.75" fill="#f44242" stroke="#111" stroke-width="0.9"/>
<path d="M456.1 680.5V666.75M448.4 666.75H463.8" stroke="#222" stroke-width="1" fill="none"/>
<rect x="441.3" y="680.5" width="29.6" height="9" fill="#f3b87d" stroke="#111" stroke-width="0.9"/>
<path d="M329.25 578.5V689.5" stroke="#111" stroke-width="1" fill="none"/>
<path d="M328.75 689.5H475" stroke="#111" stroke-width="1.1" fill="none"/>
<path d="M327.51 689.5H329.25" stroke="#222" stroke-width="0.8"/>
<text x="326.48" y="691.97" text-anchor="end" font-size="6.85" font-weight="700">0</text>
<path d="M327.51 661.75H329.25" stroke="#222" stroke-width="0.8"/>
<text x="326.48" y="664.22" text-anchor="end" font-size="6.85" font-weight="700">50</text>
<path d="M327.51 634H329.25" stroke="#222" stroke-width="0.8"/>
<text x="326.48" y="636.47" text-anchor="end" font-size="6.85" font-weight="700">100</text>
<path d="M327.51 606.25H329.25" stroke="#222" stroke-width="0.8"/>
<text x="326.48" y="608.72" text-anchor="end" font-size="6.85" font-weight="700">150</text>
<path d="M327.51 578.5H329.25" stroke="#222" stroke-width="0.8"/>
<text x="326.48" y="580.97" text-anchor="end" font-size="6.85" font-weight="700">200</text>
<path d="M347 689.5v2.26" stroke="#333" stroke-width="0.7"/>
<path d="M383.25 689.5v2.26" stroke="#333" stroke-width="0.7"/>
<path d="M419.6 689.5v2.26" stroke="#333" stroke-width="0.7"/>
<path d="M456.1 689.5v2.26" stroke="#333" stroke-width="0.7"/>
<path d="M347 620.21V617.75H381.92V620.21" stroke="#6e6e6e" stroke-width="0.7" fill="none"/>
<text x="365.18" y="617.24" text-anchor="middle" font-size="9.23" font-weight="700" font-style="italic" fill="#111" letter-spacing="0.21">***</text>
<path d="M384.28 620.21V617.75H418.78V620.21" stroke="#6e6e6e" stroke-width="0.7" fill="none"/>
<text x="401.53" y="615.39" text-anchor="middle" font-size="5.33" font-style="italic" fill="#9a9a9a">ns</text>
<path d="M420.63 620.21V617.75H456.1V620.21" stroke="#6e6e6e" stroke-width="0.7" fill="none"/>
<text x="439.08" y="617.24" text-anchor="middle" font-size="9.23" font-weight="700" font-style="italic" fill="#111" letter-spacing="0.21">****</text>
<path d="M347 608.71V606.25H419.19V608.71" stroke="#6e6e6e" stroke-width="0.7" fill="none"/>
<text x="383.81" y="605.74" text-anchor="middle" font-size="9.23" font-weight="700" font-style="italic" fill="#111" letter-spacing="0.21">***</text>
<path d="M383.25 597.71V595.25H456.1V597.71" stroke="#6e6e6e" stroke-width="0.7" fill="none"/>
<text x="420.39" y="594.74" text-anchor="middle" font-size="9.23" font-weight="700" font-style="italic" fill="#111" letter-spacing="0.21">***</text>
<path d="M347 585.96V583.5H456.1V585.96" stroke="#6e6e6e" stroke-width="0.7" fill="none"/>
<text x="402.27" y="582.99" text-anchor="middle" font-size="9.23" font-weight="700" font-style="italic" fill="#111" letter-spacing="0.21">****</text>
</g>
<g>
<text transform="translate(514 631.95) rotate(-90)" text-anchor="middle" font-size="15.43" font-weight="700">DFCHDA (MFI)</text>
<path d="M553.75 632.5V630.75M546.05 630.75H561.45" stroke="#444" stroke-width="1" fill="none"/>
<rect x="538.95" y="632.5" width="29.6" height="57" fill="#a2a2a6" stroke="#111" stroke-width="0.9"/>
<path d="M589.9 630.25V628.5M582.2 628.5H597.6" stroke="#222" stroke-width="1" fill="none"/>
<rect x="575.1" y="630.25" width="29.6" height="59.25" fill="#0000fa" stroke="#111" stroke-width="0.9"/>
<path d="M626.25 643.5V641.25M618.55 641.25H633.95" stroke="#222" stroke-width="1" fill="none"/>
<rect x="611.45" y="643.5" width="29.6" height="46" fill="#f44242" stroke="#111" stroke-width="0.9"/>
<path d="M662.75 672.5V655.75M655.05 655.75H670.45" stroke="#222" stroke-width="1" fill="none"/>
<rect x="647.95" y="672.5" width="29.6" height="17" fill="#f3b87d" stroke="#111" stroke-width="0.9"/>
<path d="M535.5 578.25V689.5" stroke="#111" stroke-width="1" fill="none"/>
<path d="M535 689.5H681" stroke="#111" stroke-width="1.1" fill="none"/>
<path d="M533.75 689.5H535.5" stroke="#222" stroke-width="0.8"/>
<text x="532.73" y="691.97" text-anchor="end" font-size="6.85" font-weight="700">0</text>
<path d="M533.75 661.69H535.5" stroke="#222" stroke-width="0.8"/>
<text x="532.73" y="664.15" text-anchor="end" font-size="6.85" font-weight="700">50</text>
<path d="M533.75 633.88H535.5" stroke="#222" stroke-width="0.8"/>
<text x="532.73" y="636.34" text-anchor="end" font-size="6.85" font-weight="700">100</text>
<path d="M533.75 606.06H535.5" stroke="#222" stroke-width="0.8"/>
<text x="532.73" y="608.53" text-anchor="end" font-size="6.85" font-weight="700">150</text>
<path d="M533.75 578.25H535.5" stroke="#222" stroke-width="0.8"/>
<text x="532.73" y="580.72" text-anchor="end" font-size="6.85" font-weight="700">200</text>
<path d="M553.75 689.5v2.26" stroke="#333" stroke-width="0.7"/>
<path d="M589.9 689.5v2.26" stroke="#333" stroke-width="0.7"/>
<path d="M626.25 689.5v2.26" stroke="#333" stroke-width="0.7"/>
<path d="M662.75 689.5v2.26" stroke="#333" stroke-width="0.7"/>
<path d="M553.75 625.72V623.25H588.56V625.72" stroke="#6e6e6e" stroke-width="0.7" fill="none"/>
<text x="571.16" y="620.89" text-anchor="middle" font-size="5.34" font-style="italic" fill="#9a9a9a">ns</text>
<path d="M590.93 625.72V623.25H625.43V625.72" stroke="#6e6e6e" stroke-width="0.7" fill="none"/>
<text x="608.18" y="620.89" text-anchor="middle" font-size="5.34" font-style="italic" fill="#9a9a9a">ns</text>
<path d="M627.28 625.72V623.25H662.75V625.72" stroke="#6e6e6e" stroke-width="0.7" fill="none"/>
<text x="645.73" y="622.74" text-anchor="middle" font-size="9.25" font-weight="700" font-style="italic" fill="#111" letter-spacing="0.21">**</text>
<path d="M553.75 613.97V611.5H625.84V613.97" stroke="#6e6e6e" stroke-width="0.7" fill="none"/>
<text x="589.79" y="609.14" text-anchor="middle" font-size="5.34" font-style="italic" fill="#9a9a9a">ns</text>
<path d="M589.9 602.47V600H662.75V602.47" stroke="#6e6e6e" stroke-width="0.7" fill="none"/>
<text x="627.04" y="599.49" text-anchor="middle" font-size="9.25" font-weight="700" font-style="italic" fill="#111" letter-spacing="0.21">****</text>
<path d="M553.75 591.72V589.25H662.75V591.72" stroke="#6e6e6e" stroke-width="0.7" fill="none"/>
<text x="608.97" y="588.74" text-anchor="middle" font-size="9.25" font-weight="700" font-style="italic" fill="#111" letter-spacing="0.21">****</text>
</g>
<g>
<text transform="translate(106.15 797.85) rotate(-90)" text-anchor="middle" font-size="14.15" font-weight="700">DFCHDA (MFI)</text>
<path d="M142.75 758.25V751M135.73 751H149.77" stroke="#444" stroke-width="0.94" fill="none"/>
<rect x="129.25" y="758.25" width="27" height="92" fill="#a2a2a6" stroke="#111" stroke-width="0.9"/>
<path d="M176 847.5V846.25M168.98 846.25H183.02" stroke="#222" stroke-width="0.94" fill="none"/>
<rect x="162.5" y="847.5" width="27" height="2.75" fill="#0000fa" stroke="#111" stroke-width="0.9"/>
<path d="M209.25 848.25V846.5M202.23 846.5H216.27" stroke="#222" stroke-width="0.94" fill="none"/>
<rect x="195.75" y="848.25" width="27" height="2" fill="#f44242" stroke="#111" stroke-width="0.9"/>
<path d="M242.5 849.5V848.5M235.48 848.5H249.52" stroke="#222" stroke-width="0.94" fill="none"/>
<rect x="229" y="849.5" width="27" height="0.75" fill="#f3b87d" stroke="#111" stroke-width="0.9"/>
<path d="M125.8 749V850.25" stroke="#666" stroke-width="1" fill="none"/>
<path d="M125.3 850.25H259.5" stroke="#111" stroke-width="1.1" fill="none"/>
<path d="M124.21 850.25H125.8" stroke="#222" stroke-width="0.8"/>
<text x="123.27" y="852.52" text-anchor="end" font-size="6.31" font-weight="700">0</text>
<path d="M124.21 824.94H125.8" stroke="#222" stroke-width="0.8"/>
<text x="123.27" y="827.21" text-anchor="end" font-size="6.31" font-weight="700">50</text>
<path d="M124.21 799.62H125.8" stroke="#222" stroke-width="0.8"/>
<text x="123.27" y="801.9" text-anchor="end" font-size="6.31" font-weight="700">100</text>
<path d="M124.21 774.31H125.8" stroke="#222" stroke-width="0.8"/>
<text x="123.27" y="776.59" text-anchor="end" font-size="6.31" font-weight="700">150</text>
<path d="M124.21 749H125.8" stroke="#222" stroke-width="0.8"/>
<text x="123.27" y="751.27" text-anchor="end" font-size="6.31" font-weight="700">200</text>
<path d="M142.75 850.25v2.06" stroke="#333" stroke-width="0.7"/>
<path d="M176 850.25v2.06" stroke="#333" stroke-width="0.7"/>
<path d="M209.25 850.25v2.06" stroke="#333" stroke-width="0.7"/>
<path d="M242.5 850.25v2.06" stroke="#333" stroke-width="0.7"/>
<path d="M142.75 748.99V746.75H174.78V748.99" stroke="#6e6e6e" stroke-width="0.7" fill="none"/>
<text x="159.42" y="746.28" text-anchor="middle" font-size="8.42" font-weight="700" font-style="italic" fill="#111" letter-spacing="0.19">****</text>
<path d="M176.94 748.99V746.75H208.5V748.99" stroke="#6e6e6e" stroke-width="0.7" fill="none"/>
<text x="192.72" y="744.6" text-anchor="middle" font-size="4.86" font-style="italic" fill="#9a9a9a">ns</text>
<path d="M210.19 748.99V746.75H242.5V748.99" stroke="#6e6e6e" stroke-width="0.7" fill="none"/>
<text x="226.34" y="744.6" text-anchor="middle" font-size="4.86" font-style="italic" fill="#9a9a9a">ns</text>
<text x="176.47" y="735.28" text-anchor="middle" font-size="8.42" font-weight="700" font-style="italic" fill="#111" letter-spacing="0.19">****</text>
<path d="M176 727.49V725.25H242.5V727.49" stroke="#6e6e6e" stroke-width="0.7" fill="none"/>
<text x="209.25" y="723.1" text-anchor="middle" font-size="4.86" font-style="italic" fill="#9a9a9a">ns</text>
<path d="M142.75 716.74V714.5H242.5V716.74" stroke="#2a2a2a" stroke-width="0.9" fill="none"/>
<text x="193.28" y="714.03" text-anchor="middle" font-size="8.42" font-weight="700" font-style="italic" fill="#111" letter-spacing="0.19">****</text>
</g>
<g>
<text transform="translate(306.89 794.8) rotate(-90)" text-anchor="middle" font-size="14.82" font-weight="700">DFCHDA (MFI)</text>
<path d="M344.75 793V777M337.34 777H352.16" stroke="#444" stroke-width="0.99" fill="none"/>
<rect x="330.5" y="793" width="28.5" height="57.25" fill="#a2a2a6" stroke="#111" stroke-width="0.9"/>
<path d="M380 808.5V798.5M372.59 798.5H387.41" stroke="#222" stroke-width="0.99" fill="none"/>
<rect x="365.75" y="808.5" width="28.5" height="41.75" fill="#0000fa" stroke="#111" stroke-width="0.9"/>
<path d="M415.25 807.5V794.75M407.84 794.75H422.66" stroke="#222" stroke-width="0.99" fill="none"/>
<rect x="401" y="807.5" width="28.5" height="42.75" fill="#f44242" stroke="#111" stroke-width="0.9"/>
<path d="M450.5 838V823M443.09 823H457.91" stroke="#222" stroke-width="0.99" fill="none"/>
<rect x="436.25" y="838" width="28.5" height="12.25" fill="#f3b87d" stroke="#111" stroke-width="0.9"/>
<path d="M327.75 743V850.25" stroke="#111" stroke-width="1" fill="none"/>
<path d="M327.25 850.25H468" stroke="#111" stroke-width="1.1" fill="none"/>
<path d="M326.07 850.25H327.75" stroke="#222" stroke-width="0.8"/>
<text x="325.07" y="852.64" text-anchor="end" font-size="6.63" font-weight="700">0</text>
<path d="M326.07 823.44H327.75" stroke="#222" stroke-width="0.8"/>
<text x="325.07" y="825.83" text-anchor="end" font-size="6.63" font-weight="700">50</text>
<path d="M326.07 796.62H327.75" stroke="#222" stroke-width="0.8"/>
<text x="325.07" y="799.01" text-anchor="end" font-size="6.63" font-weight="700">100</text>
<path d="M326.07 769.81H327.75" stroke="#222" stroke-width="0.8"/>
<text x="325.07" y="772.2" text-anchor="end" font-size="6.63" font-weight="700">150</text>
<path d="M326.07 743H327.75" stroke="#222" stroke-width="0.8"/>
<text x="325.07" y="745.39" text-anchor="end" font-size="6.63" font-weight="700">200</text>
<path d="M344.75 850.25v2.18" stroke="#333" stroke-width="0.7"/>
<path d="M380 850.25v2.18" stroke="#333" stroke-width="0.7"/>
<path d="M415.25 850.25v2.18" stroke="#333" stroke-width="0.7"/>
<path d="M450.5 850.25v2.18" stroke="#333" stroke-width="0.7"/>
<path d="M344.75 774.38V772H378.71V774.38" stroke="#6e6e6e" stroke-width="0.7" fill="none"/>
<text x="361.73" y="769.72" text-anchor="middle" font-size="5.15" font-style="italic" fill="#9a9a9a">ns</text>
<path d="M380.99 774.38V772H414.46V774.38" stroke="#6e6e6e" stroke-width="0.7" fill="none"/>
<text x="397.72" y="769.72" text-anchor="middle" font-size="5.15" font-style="italic" fill="#9a9a9a">ns</text>
<path d="M416.24 774.38V772H450.5V774.38" stroke="#6e6e6e" stroke-width="0.7" fill="none"/>
<text x="434.06" y="771.5" text-anchor="middle" font-size="8.92" font-weight="700" font-style="italic" fill="#111" letter-spacing="0.2">**</text>
<path d="M344.75 763.38V761H414.85V763.38" stroke="#6e6e6e" stroke-width="0.7" fill="none"/>
<text x="379.8" y="758.72" text-anchor="middle" font-size="5.15" font-style="italic" fill="#9a9a9a">ns</text>
<path d="M380 751.88V749.5H450.5V751.88" stroke="#2a2a2a" stroke-width="0.9" fill="none"/>
<text x="415.94" y="749" text-anchor="middle" font-size="8.92" font-weight="700" font-style="italic" fill="#111" letter-spacing="0.2">**</text>
<path d="M344.75 741.13V738.75H450.5V741.13" stroke="#2a2a2a" stroke-width="0.9" fill="none"/>
<text x="398.32" y="738.25" text-anchor="middle" font-size="8.92" font-weight="700" font-style="italic" fill="#111" letter-spacing="0.2">****</text>
</g>
<g>
<text transform="translate(512.87 795.7) rotate(-90)" text-anchor="middle" font-size="14.49" font-weight="700">DFCHDA (MFI)</text>
<path d="M550.5 794V787.25M543.19 787.25H557.81" stroke="#444" stroke-width="0.97" fill="none"/>
<rect x="536.45" y="794" width="28.1" height="56.5" fill="#a2a2a6" stroke="#111" stroke-width="0.9"/>
<path d="M584.9 794V776M577.59 776H592.21" stroke="#222" stroke-width="0.97" fill="none"/>
<rect x="570.85" y="794" width="28.1" height="56.5" fill="#0000fa" stroke="#111" stroke-width="0.9"/>
<path d="M619.25 803.5V799.5M611.94 799.5H626.56" stroke="#222" stroke-width="0.97" fill="none"/>
<rect x="605.2" y="803.5" width="28.1" height="47" fill="#f44242" stroke="#111" stroke-width="0.9"/>
<path d="M653.75 836.75V816M646.44 816H661.06" stroke="#222" stroke-width="0.97" fill="none"/>
<rect x="639.7" y="836.75" width="28.1" height="13.75" fill="#f3b87d" stroke="#111" stroke-width="0.9"/>
<path d="M534 745.5V850.5" stroke="#111" stroke-width="1" fill="none"/>
<path d="M533.5 850.5H671" stroke="#111" stroke-width="1.1" fill="none"/>
<path d="M532.35 850.5H534" stroke="#222" stroke-width="0.8"/>
<text x="531.38" y="852.85" text-anchor="end" font-size="6.53" font-weight="700">0</text>
<path d="M532.35 824.25H534" stroke="#222" stroke-width="0.8"/>
<text x="531.38" y="826.6" text-anchor="end" font-size="6.53" font-weight="700">50</text>
<path d="M532.35 798H534" stroke="#222" stroke-width="0.8"/>
<text x="531.38" y="800.35" text-anchor="end" font-size="6.53" font-weight="700">100</text>
<path d="M532.35 771.75H534" stroke="#222" stroke-width="0.8"/>
<text x="531.38" y="774.1" text-anchor="end" font-size="6.53" font-weight="700">150</text>
<path d="M532.35 745.5H534" stroke="#222" stroke-width="0.8"/>
<text x="531.38" y="747.85" text-anchor="end" font-size="6.53" font-weight="700">200</text>
<path d="M550.5 850.5v2.13" stroke="#333" stroke-width="0.7"/>
<path d="M584.9 850.5v2.13" stroke="#333" stroke-width="0.7"/>
<path d="M619.25 850.5v2.13" stroke="#333" stroke-width="0.7"/>
<path d="M653.75 850.5v2.13" stroke="#333" stroke-width="0.7"/>
<path d="M550.5 773.33V771H583.64V773.33" stroke="#6e6e6e" stroke-width="0.7" fill="none"/>
<text x="567.07" y="768.77" text-anchor="middle" font-size="5.04" font-style="italic" fill="#9a9a9a">ns</text>
<path d="M585.87 773.33V771H618.47V773.33" stroke="#6e6e6e" stroke-width="0.7" fill="none"/>
<text x="602.17" y="768.77" text-anchor="middle" font-size="5.04" font-style="italic" fill="#9a9a9a">ns</text>
<path d="M620.22 773.33V771H653.75V773.33" stroke="#6e6e6e" stroke-width="0.7" fill="none"/>
<text x="637.66" y="770.52" text-anchor="middle" font-size="8.73" font-weight="700" font-style="italic" fill="#111" letter-spacing="0.19">**</text>
<path d="M550.5 763.08V760.75H618.86V763.08" stroke="#6e6e6e" stroke-width="0.7" fill="none"/>
<text x="584.68" y="758.52" text-anchor="middle" font-size="5.04" font-style="italic" fill="#9a9a9a">ns</text>
<path d="M584.9 751.58V749.25H653.75V751.58" stroke="#2a2a2a" stroke-width="0.9" fill="none"/>
<text x="620" y="748.77" text-anchor="middle" font-size="8.73" font-weight="700" font-style="italic" fill="#111" letter-spacing="0.19">****</text>
<path d="M550.5 741.33V739H653.75V741.33" stroke="#2a2a2a" stroke-width="0.9" fill="none"/>
<text x="602.8" y="738.52" text-anchor="middle" font-size="8.73" font-weight="700" font-style="italic" fill="#111" letter-spacing="0.19">****</text>
</g>
<g>
<text transform="translate(107.37 960.15) rotate(-90)" text-anchor="middle" font-size="15.34" font-weight="700">DFCHDA (MFI)</text>
<path d="M147 917.5V909.25M139.36 909.25H154.64" stroke="#444" stroke-width="1" fill="none"/>
<rect x="132.3" y="917.5" width="29.4" height="100" fill="#a2a2a6" stroke="#111" stroke-width="0.9"/>
<path d="M183.1 982.75V980.5M175.46 980.5H190.74" stroke="#222" stroke-width="1" fill="none"/>
<rect x="168.4" y="982.75" width="29.4" height="34.75" fill="#0000fa" stroke="#111" stroke-width="0.9"/>
<path d="M219.5 990.75V987.25M211.86 987.25H227.14" stroke="#222" stroke-width="1" fill="none"/>
<rect x="204.8" y="990.75" width="29.4" height="26.75" fill="#f44242" stroke="#111" stroke-width="0.9"/>
<path d="M255.5 1012.5V1011.5M247.86 1011.5H263.14" stroke="#222" stroke-width="1" fill="none"/>
<rect x="240.8" y="1012.5" width="29.4" height="5" fill="#f3b87d" stroke="#111" stroke-width="0.9"/>
<path d="M129.1 907.5V1017.5" stroke="#777" stroke-width="1" fill="none"/>
<path d="M128.6 1017.5H273" stroke="#111" stroke-width="1.1" fill="none"/>
<path d="M127.37 1017.5H129.1" stroke="#222" stroke-width="0.8"/>
<text x="126.36" y="1019.97" text-anchor="end" font-size="6.85" font-weight="700">0</text>
<path d="M127.37 990H129.1" stroke="#222" stroke-width="0.8"/>
<text x="126.36" y="992.47" text-anchor="end" font-size="6.85" font-weight="700">50</text>
<path d="M127.37 962.5H129.1" stroke="#222" stroke-width="0.8"/>
<text x="126.36" y="964.97" text-anchor="end" font-size="6.85" font-weight="700">100</text>
<path d="M127.37 935H129.1" stroke="#222" stroke-width="0.8"/>
<text x="126.36" y="937.47" text-anchor="end" font-size="6.85" font-weight="700">150</text>
<path d="M127.37 907.5H129.1" stroke="#222" stroke-width="0.8"/>
<text x="126.36" y="909.97" text-anchor="end" font-size="6.85" font-weight="700">200</text>
<path d="M147 1017.5v2.24" stroke="#333" stroke-width="0.7"/>
<path d="M183.1 1017.5v2.24" stroke="#333" stroke-width="0.7"/>
<path d="M219.5 1017.5v2.24" stroke="#333" stroke-width="0.7"/>
<path d="M255.5 1017.5v2.24" stroke="#333" stroke-width="0.7"/>
<path d="M147 906.69V904.25H181.78V906.69" stroke="#6e6e6e" stroke-width="0.7" fill="none"/>
<text x="165.1" y="903.74" text-anchor="middle" font-size="9.15" font-weight="700" font-style="italic" fill="#111" letter-spacing="0.2">****</text>
<path d="M184.12 906.69V904.25H218.69V906.69" stroke="#6e6e6e" stroke-width="0.7" fill="none"/>
<text x="202.11" y="903.74" text-anchor="middle" font-size="9.15" font-weight="700" font-style="italic" fill="#111" letter-spacing="0.2">**</text>
<path d="M220.52 906.69V904.25H255.5V906.69" stroke="#6e6e6e" stroke-width="0.7" fill="none"/>
<text x="238.72" y="903.74" text-anchor="middle" font-size="9.15" font-weight="700" font-style="italic" fill="#111" letter-spacing="0.2">****</text>
<path d="M147 895.19V892.75H219.09V895.19" stroke="#2a2a2a" stroke-width="0.9" fill="none"/>
<text x="183.76" y="892.24" text-anchor="middle" font-size="9.15" font-weight="700" font-style="italic" fill="#111" letter-spacing="0.2">****</text>
<path d="M183.1 883.69V881.25H255.5V883.69" stroke="#2a2a2a" stroke-width="0.9" fill="none"/>
<text x="220.01" y="880.74" text-anchor="middle" font-size="9.15" font-weight="700" font-style="italic" fill="#111" letter-spacing="0.2">****</text>
<path d="M147 872.44V870H255.5V872.44" stroke="#6e6e6e" stroke-width="0.7" fill="none"/>
<text x="201.96" y="869.49" text-anchor="middle" font-size="9.15" font-weight="700" font-style="italic" fill="#111" letter-spacing="0.2">****</text>
</g>
<g>
<text transform="translate(306.62 963.55) rotate(-90)" text-anchor="middle" font-size="14.63" font-weight="700">DFCHDA (MFI)</text>
<path d="M343.5 942.5V922.5M336.22 922.5H350.78" stroke="#444" stroke-width="0.97" fill="none"/>
<rect x="329.5" y="942.5" width="28" height="75" fill="#a2a2a6" stroke="#111" stroke-width="0.9"/>
<path d="M378 957.25V956M370.72 956H385.28" stroke="#222" stroke-width="0.97" fill="none"/>
<rect x="364" y="957.25" width="28" height="60.25" fill="#0000fa" stroke="#111" stroke-width="0.9"/>
<path d="M412.5 1004.75V994.5M405.22 994.5H419.78" stroke="#222" stroke-width="0.97" fill="none"/>
<rect x="398.5" y="1004.75" width="28" height="12.75" fill="#f44242" stroke="#111" stroke-width="0.9"/>
<path d="M447 1008.75V999.5M439.72 999.5H454.28" stroke="#222" stroke-width="0.97" fill="none"/>
<rect x="433" y="1008.75" width="28" height="8.75" fill="#f3b87d" stroke="#111" stroke-width="0.9"/>
<path d="M327 913V1017.5" stroke="#111" stroke-width="1" fill="none"/>
<path d="M326.5 1017.5H465.5" stroke="#111" stroke-width="1.1" fill="none"/>
<path d="M325.36 1017.5H327" stroke="#222" stroke-width="0.8"/>
<text x="324.39" y="1019.85" text-anchor="end" font-size="6.53" font-weight="700">0</text>
<path d="M325.36 991.38H327" stroke="#222" stroke-width="0.8"/>
<text x="324.39" y="993.72" text-anchor="end" font-size="6.53" font-weight="700">50</text>
<path d="M325.36 965.25H327" stroke="#222" stroke-width="0.8"/>
<text x="324.39" y="967.6" text-anchor="end" font-size="6.53" font-weight="700">100</text>
<path d="M325.36 939.12H327" stroke="#222" stroke-width="0.8"/>
<text x="324.39" y="941.47" text-anchor="end" font-size="6.53" font-weight="700">150</text>
<path d="M325.36 913H327" stroke="#222" stroke-width="0.8"/>
<text x="324.39" y="915.35" text-anchor="end" font-size="6.53" font-weight="700">200</text>
<path d="M343.5 1017.5v2.12" stroke="#333" stroke-width="0.7"/>
<path d="M378 1017.5v2.12" stroke="#333" stroke-width="0.7"/>
<path d="M412.5 1017.5v2.12" stroke="#333" stroke-width="0.7"/>
<path d="M447 1017.5v2.12" stroke="#333" stroke-width="0.7"/>
<path d="M343.5 920.32V918H376.75V920.32" stroke="#6e6e6e" stroke-width="0.7" fill="none"/>
<text x="360.12" y="915.78" text-anchor="middle" font-size="5.02" font-style="italic" fill="#9a9a9a">ns</text>
<path d="M378.97 920.32V918H411.73V920.32" stroke="#6e6e6e" stroke-width="0.7" fill="none"/>
<text x="396.02" y="917.52" text-anchor="middle" font-size="8.69" font-weight="700" font-style="italic" fill="#111" letter-spacing="0.19">***</text>
<path d="M413.47 920.32V918H447V920.32" stroke="#6e6e6e" stroke-width="0.7" fill="none"/>
<text x="430.23" y="915.78" text-anchor="middle" font-size="5.02" font-style="italic" fill="#9a9a9a">ns</text>
<path d="M343.5 909.07V906.75H412.11V909.07" stroke="#6e6e6e" stroke-width="0.7" fill="none"/>
<text x="378.48" y="906.27" text-anchor="middle" font-size="8.69" font-weight="700" font-style="italic" fill="#111" letter-spacing="0.19">****</text>
<path d="M378 898.07V895.75H447V898.07" stroke="#6e6e6e" stroke-width="0.7" fill="none"/>
<text x="413.18" y="895.27" text-anchor="middle" font-size="8.69" font-weight="700" font-style="italic" fill="#111" letter-spacing="0.19">***</text>
<path d="M343.5 887.32V885H447V887.32" stroke="#6e6e6e" stroke-width="0.7" fill="none"/>
<text x="395.93" y="884.52" text-anchor="middle" font-size="8.69" font-weight="700" font-style="italic" fill="#111" letter-spacing="0.19">****</text>
</g>
<g>
<text transform="translate(514.22 958.7) rotate(-90)" text-anchor="middle" font-size="15.77" font-weight="700">DFCHDA (MFI)</text>
<path d="M554.6 966.5V955.25M546.7 955.25H562.5" stroke="#444" stroke-width="1" fill="none"/>
<rect x="539.4" y="966.5" width="30.4" height="50.75" fill="#a2a2a6" stroke="#111" stroke-width="0.9"/>
<path d="M591.75 970.25V965.75M583.85 965.75H599.65" stroke="#222" stroke-width="1" fill="none"/>
<rect x="576.55" y="970.25" width="30.4" height="47" fill="#0000fa" stroke="#111" stroke-width="0.9"/>
<path d="M628.75 992.5V979.25M620.85 979.25H636.65" stroke="#222" stroke-width="1" fill="none"/>
<rect x="613.55" y="992.5" width="30.4" height="24.75" fill="#f44242" stroke="#111" stroke-width="0.9"/>
<path d="M665.75 1006.75V991.5M657.85 991.5H673.65" stroke="#222" stroke-width="1" fill="none"/>
<rect x="650.55" y="1006.75" width="30.4" height="10.5" fill="#f3b87d" stroke="#111" stroke-width="0.9"/>
<path d="M536 904.75V1017.25" stroke="#777" stroke-width="1" fill="none"/>
<path d="M535.5 1017.25H685" stroke="#111" stroke-width="1.7" fill="none"/>
<path d="M534.23 1017.25H536" stroke="#222" stroke-width="0.8"/>
<text x="533.19" y="1019.75" text-anchor="end" font-size="6.96" font-weight="700">0</text>
<path d="M534.23 989.12H536" stroke="#222" stroke-width="0.8"/>
<text x="533.19" y="991.63" text-anchor="end" font-size="6.96" font-weight="700">50</text>
<path d="M534.23 961H536" stroke="#222" stroke-width="0.8"/>
<text x="533.19" y="963.5" text-anchor="end" font-size="6.96" font-weight="700">100</text>
<path d="M534.23 932.88H536" stroke="#222" stroke-width="0.8"/>
<text x="533.19" y="935.38" text-anchor="end" font-size="6.96" font-weight="700">150</text>
<path d="M534.23 904.75H536" stroke="#222" stroke-width="0.8"/>
<text x="533.19" y="907.25" text-anchor="end" font-size="6.96" font-weight="700">200</text>
<path d="M554.6 1017.25v2.29" stroke="#333" stroke-width="0.7"/>
<path d="M591.75 1017.25v2.29" stroke="#333" stroke-width="0.7"/>
<path d="M628.75 1017.25v2.29" stroke="#333" stroke-width="0.7"/>
<path d="M665.75 1017.25v2.29" stroke="#333" stroke-width="0.7"/>
<path d="M554.6 952.24V949.75H590.4V952.24" stroke="#2a2a2a" stroke-width="0.9" fill="none"/>
<text x="572.5" y="947.36" text-anchor="middle" font-size="5.4" font-style="italic" fill="#9a9a9a">ns</text>
<path d="M592.79 952.24V949.75H627.92V952.24" stroke="#2a2a2a" stroke-width="0.9" fill="none"/>
<text x="611.08" y="949.23" text-anchor="middle" font-size="9.35" font-weight="700" font-style="italic" fill="#111" letter-spacing="0.21">**</text>
<path d="M629.79 952.24V949.75H665.75V952.24" stroke="#6e6e6e" stroke-width="0.7" fill="none"/>
<text x="647.77" y="947.36" text-anchor="middle" font-size="5.4" font-style="italic" fill="#9a9a9a">ns</text>
<path d="M554.6 940.99V938.5H628.33V940.99" stroke="#6e6e6e" stroke-width="0.7" fill="none"/>
<text x="592.19" y="937.98" text-anchor="middle" font-size="9.35" font-weight="700" font-style="italic" fill="#111" letter-spacing="0.21">**</text>
<path d="M591.75 929.24V926.75H665.75V929.24" stroke="#2a2a2a" stroke-width="0.9" fill="none"/>
<text x="629.48" y="926.23" text-anchor="middle" font-size="9.35" font-weight="700" font-style="italic" fill="#111" letter-spacing="0.21">****</text>
<path d="M554.6 917.74V915.25H665.75V917.74" stroke="#6e6e6e" stroke-width="0.7" fill="none"/>
<text x="610.9" y="914.73" text-anchor="middle" font-size="9.35" font-weight="700" font-style="italic" fill="#111" letter-spacing="0.21">****</text>
</g>
<rect x="157.7" y="1028.5" width="13" height="13.4" fill="#a2a2a6" stroke="#111" stroke-width="2"/>
<text x="181.0" y="1042.6" font-size="18.6" textLength="59" lengthAdjust="spacingAndGlyphs">Vehicle</text>
<rect x="299.6" y="1028.5" width="13" height="13.4" fill="#0000fa" stroke="#111" stroke-width="2"/>
<text x="323.0" y="1042.6" font-size="18.6" textLength="35.5" lengthAdjust="spacingAndGlyphs">1µM</text>
<rect x="424.5" y="1028.5" width="13" height="13.4" fill="#f44242" stroke="#111" stroke-width="2"/>
<text x="446.6" y="1042.6" font-size="18.6" textLength="36" lengthAdjust="spacingAndGlyphs">5µM</text>
<rect x="546.2" y="1028.5" width="13" height="13.4" fill="#f3b87d" stroke="#111" stroke-width="2"/>
<text x="567.2" y="1042.6" font-size="18.6" textLength="48" lengthAdjust="spacingAndGlyphs">20µM</text>
<path d="M128 454.4H161" stroke="#d4d4d8" stroke-width="0.6"/>
<path d="M128.5 966.5H162M326 966.5H392" stroke="#dcdce2" stroke-width="0.6"/>
</svg></body></html>
